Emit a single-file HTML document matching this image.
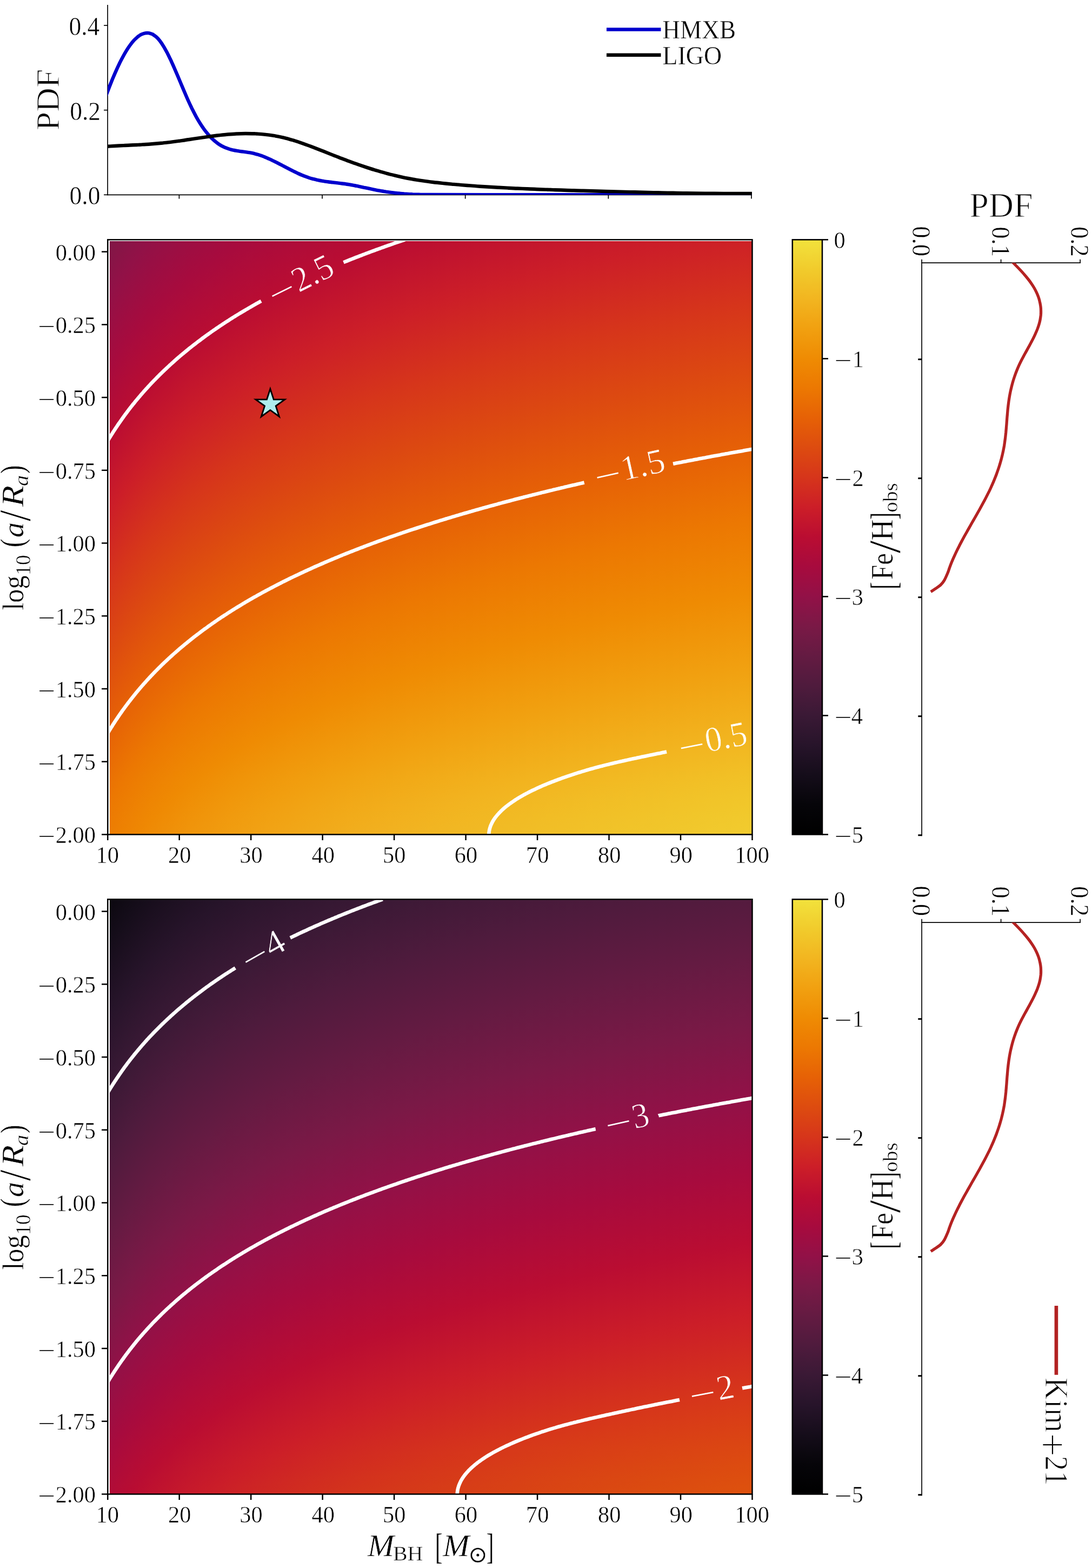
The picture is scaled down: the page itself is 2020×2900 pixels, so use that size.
<!DOCTYPE html>
<html lang="en"><head><meta charset="utf-8"><title>Figure</title>
<style>html,body{margin:0;padding:0;background:#fff;}body{width:2020px;height:2900px;overflow:hidden;}svg{display:block;}</style></head>
<body>
<svg width="2020" height="2900" viewBox="0 0 2020 2900" font-family='"Liberation Serif", "DejaVu Serif", serif'>
<defs>
<linearGradient id="cm" gradientUnits="userSpaceOnUse" x1="0" y1="-2211.76" x2="0" y2="465.60"><stop offset="0.0000" stop-color="#000000"/><stop offset="0.0500" stop-color="#060509"/><stop offset="0.1000" stop-color="#150d1a"/><stop offset="0.1500" stop-color="#27142a"/><stop offset="0.2000" stop-color="#3a1935"/><stop offset="0.2500" stop-color="#4f1b3d"/><stop offset="0.3000" stop-color="#641b42"/><stop offset="0.3500" stop-color="#7a1946"/><stop offset="0.4000" stop-color="#921147"/><stop offset="0.4500" stop-color="#a70b3e"/><stop offset="0.5000" stop-color="#ba0d32"/><stop offset="0.5500" stop-color="#cc1e28"/><stop offset="0.6000" stop-color="#d6351b"/><stop offset="0.6500" stop-color="#dd4b10"/><stop offset="0.7000" stop-color="#e66106"/><stop offset="0.7500" stop-color="#ec7802"/><stop offset="0.8000" stop-color="#ef8b03"/><stop offset="0.8500" stop-color="#f1a010"/><stop offset="0.9000" stop-color="#f2b520"/><stop offset="0.9500" stop-color="#f1cb2c"/><stop offset="1.0000" stop-color="#f2e23c"/></linearGradient>
<linearGradient id="cb" x1="0" y1="0" x2="0" y2="1"><stop offset="-0.0000" stop-color="#f2e23c"/><stop offset="0.0500" stop-color="#f1cb2c"/><stop offset="0.1000" stop-color="#f2b520"/><stop offset="0.1500" stop-color="#f1a010"/><stop offset="0.2000" stop-color="#ef8b03"/><stop offset="0.2500" stop-color="#ec7802"/><stop offset="0.3000" stop-color="#e66106"/><stop offset="0.3500" stop-color="#dd4b10"/><stop offset="0.4000" stop-color="#d6351b"/><stop offset="0.4500" stop-color="#cc1e28"/><stop offset="0.5000" stop-color="#ba0d32"/><stop offset="0.5500" stop-color="#a70b3e"/><stop offset="0.6000" stop-color="#921147"/><stop offset="0.6500" stop-color="#7a1946"/><stop offset="0.7000" stop-color="#641b42"/><stop offset="0.7500" stop-color="#4f1b3d"/><stop offset="0.8000" stop-color="#3a1935"/><stop offset="0.8500" stop-color="#27142a"/><stop offset="0.9000" stop-color="#150d1a"/><stop offset="0.9500" stop-color="#060509"/><stop offset="1.0000" stop-color="#000000"/></linearGradient>
<linearGradient id="ov1" x1="0" y1="0" x2="0" y2="1"><stop offset="0" stop-color="#e63c00" stop-opacity="0.0000"/><stop offset="0.25" stop-color="#e63c00" stop-opacity="0.0031"/><stop offset="0.5" stop-color="#e63c00" stop-opacity="0.0125"/><stop offset="0.75" stop-color="#e63c00" stop-opacity="0.0281"/><stop offset="1.0" stop-color="#e63c00" stop-opacity="0.0500"/></linearGradient>
<linearGradient id="ov2" x1="0" y1="0" x2="0" y2="1"><stop offset="0" stop-color="#96003c" stop-opacity="0.0000"/><stop offset="0.25" stop-color="#96003c" stop-opacity="0.0031"/><stop offset="0.5" stop-color="#96003c" stop-opacity="0.0125"/><stop offset="0.75" stop-color="#96003c" stop-opacity="0.0281"/><stop offset="1.0" stop-color="#96003c" stop-opacity="0.0500"/></linearGradient>
<clipPath id="clip0"><rect x="199.25" y="443.30" width="1192.25" height="1100.10"/></clipPath>
<clipPath id="clip1"><rect x="199.25" y="1663.30" width="1192.25" height="1100.10"/></clipPath>
<clipPath id="clipT"><rect x="199.1" y="9" width="1192" height="351.3"/></clipPath>
<clipPath id="clipR0"><rect x="1705.1" y="486.2" width="293.5" height="1060"/></clipPath>
<clipPath id="clipR1"><rect x="1705.1" y="1706.2" width="293.5" height="1060"/></clipPath>
</defs>
<rect width="2020" height="2900" fill="#fff"/>
<g clip-path="url(#clip0)" shape-rendering="crispEdges">
<g fill="url(#cm)"><rect x="198" y="-1252.9" width="12.5" height="1125.5" transform="matrix(1 -1.61762 0 1 0 2013.52)"/><rect x="210" y="-1233.5" width="12.5" height="1124.0" transform="matrix(1 -1.49294 0 1 0 1987.34)"/><rect x="222" y="-1215.6" width="12.5" height="1122.7" transform="matrix(1 -1.38611 0 1 0 1963.62)"/><rect x="234" y="-1199.0" width="12.5" height="1121.6" transform="matrix(1 -1.29355 0 1 0 1941.97)"/><rect x="246" y="-1183.5" width="12.5" height="1120.7" transform="matrix(1 -1.21258 0 1 0 1922.05)"/><rect x="258" y="-1168.9" width="12.5" height="1119.8" transform="matrix(1 -1.14116 0 1 0 1903.62)"/><rect x="270" y="-1155.2" width="12.5" height="1119.0" transform="matrix(1 -1.07768 0 1 0 1886.48)"/><rect x="282" y="-1142.3" width="12.5" height="1118.4" transform="matrix(1 -1.02090 0 1 0 1870.47)"/><rect x="294" y="-1130.0" width="12.5" height="1117.7" transform="matrix(1 -0.96980 0 1 0 1855.45)"/><rect x="306" y="-1118.4" width="12.5" height="1117.2" transform="matrix(1 -0.92357 0 1 0 1841.30)"/><rect x="318" y="-1107.3" width="12.5" height="1116.7" transform="matrix(1 -0.88155 0 1 0 1827.94)"/><rect x="330" y="-1096.7" width="12.5" height="1116.2" transform="matrix(1 -0.84319 0 1 0 1815.28)"/><rect x="342" y="-1086.6" width="12.5" height="1115.8" transform="matrix(1 -0.80803 0 1 0 1803.25)"/><rect x="354" y="-1076.9" width="12.5" height="1115.4" transform="matrix(1 -0.77568 0 1 0 1791.80)"/><rect x="366" y="-1067.6" width="12.5" height="1115.0" transform="matrix(1 -0.74582 0 1 0 1780.87)"/><rect x="378" y="-1058.7" width="12.5" height="1114.7" transform="matrix(1 -0.71818 0 1 0 1770.43)"/><rect x="390" y="-1050.0" width="12.5" height="1114.4" transform="matrix(1 -0.69251 0 1 0 1760.42)"/><rect x="402" y="-1041.7" width="12.5" height="1114.1" transform="matrix(1 -0.66862 0 1 0 1750.81)"/><rect x="414" y="-1033.7" width="12.5" height="1113.9" transform="matrix(1 -0.64632 0 1 0 1741.58)"/><rect x="426" y="-1025.9" width="12.5" height="1113.6" transform="matrix(1 -0.62546 0 1 0 1732.69)"/><rect x="438" y="-1018.4" width="12.5" height="1113.4" transform="matrix(1 -0.60590 0 1 0 1724.12)"/><rect x="450" y="-1011.2" width="12.5" height="1113.2" transform="matrix(1 -0.58753 0 1 0 1715.86)"/><rect x="462" y="-1004.1" width="12.5" height="1112.9" transform="matrix(1 -0.57024 0 1 0 1707.87)"/><rect x="474" y="-997.3" width="12.5" height="1112.7" transform="matrix(1 -0.55394 0 1 0 1700.14)"/><rect x="486" y="-990.6" width="12.5" height="1112.6" transform="matrix(1 -0.53854 0 1 0 1692.66)"/><rect x="498" y="-984.2" width="12.5" height="1112.4" transform="matrix(1 -0.52398 0 1 0 1685.41)"/><rect x="510" y="-977.9" width="12.5" height="1112.2" transform="matrix(1 -0.51019 0 1 0 1678.37)"/><rect x="522" y="-971.8" width="12.5" height="1112.1" transform="matrix(1 -0.49710 0 1 0 1671.54)"/><rect x="534" y="-965.8" width="12.5" height="1111.9" transform="matrix(1 -0.48467 0 1 0 1664.90)"/><rect x="546" y="-960.0" width="12.5" height="1111.8" transform="matrix(1 -0.47284 0 1 0 1658.45)"/><rect x="558" y="-954.3" width="12.5" height="1111.6" transform="matrix(1 -0.46158 0 1 0 1652.16)"/><rect x="570" y="-948.8" width="12.5" height="1111.5" transform="matrix(1 -0.45084 0 1 0 1646.04)"/><rect x="582" y="-943.4" width="12.5" height="1111.4" transform="matrix(1 -0.44059 0 1 0 1640.08)"/><rect x="594" y="-938.1" width="12.5" height="1111.3" transform="matrix(1 -0.43079 0 1 0 1634.26)"/><rect x="606" y="-932.9" width="12.5" height="1111.2" transform="matrix(1 -0.42143 0 1 0 1628.58)"/><rect x="618" y="-927.8" width="12.5" height="1111.0" transform="matrix(1 -0.41246 0 1 0 1623.04)"/><rect x="630" y="-922.9" width="12.5" height="1110.9" transform="matrix(1 -0.40386 0 1 0 1617.62)"/><rect x="642" y="-918.0" width="12.5" height="1110.8" transform="matrix(1 -0.39562 0 1 0 1612.33)"/><rect x="654" y="-913.3" width="12.5" height="1110.8" transform="matrix(1 -0.38770 0 1 0 1607.15)"/><rect x="666" y="-908.6" width="12.5" height="1110.7" transform="matrix(1 -0.38010 0 1 0 1602.09)"/><rect x="678" y="-904.1" width="12.5" height="1110.6" transform="matrix(1 -0.37278 0 1 0 1597.13)"/><rect x="690" y="-899.6" width="12.5" height="1110.5" transform="matrix(1 -0.36575 0 1 0 1592.28)"/><rect x="702" y="-895.2" width="12.5" height="1110.4" transform="matrix(1 -0.35897 0 1 0 1587.52)"/><rect x="714" y="-890.9" width="12.5" height="1110.3" transform="matrix(1 -0.35245 0 1 0 1582.86)"/><rect x="726" y="-886.7" width="12.5" height="1110.3" transform="matrix(1 -0.34615 0 1 0 1578.29)"/><rect x="738" y="-882.5" width="12.5" height="1110.2" transform="matrix(1 -0.34008 0 1 0 1573.80)"/><rect x="750" y="-878.4" width="12.5" height="1110.1" transform="matrix(1 -0.33421 0 1 0 1569.41)"/><rect x="762" y="-874.4" width="12.5" height="1110.0" transform="matrix(1 -0.32854 0 1 0 1565.09)"/><rect x="774" y="-870.5" width="12.5" height="1110.0" transform="matrix(1 -0.32307 0 1 0 1560.85)"/><rect x="786" y="-866.6" width="12.5" height="1109.9" transform="matrix(1 -0.31777 0 1 0 1556.69)"/><rect x="798" y="-862.8" width="12.5" height="1109.9" transform="matrix(1 -0.31264 0 1 0 1552.59)"/><rect x="810" y="-859.1" width="12.5" height="1109.8" transform="matrix(1 -0.30768 0 1 0 1548.57)"/><rect x="822" y="-855.4" width="12.5" height="1109.7" transform="matrix(1 -0.30287 0 1 0 1544.62)"/><rect x="834" y="-851.7" width="12.5" height="1109.7" transform="matrix(1 -0.29821 0 1 0 1540.73)"/><rect x="846" y="-848.1" width="12.5" height="1109.6" transform="matrix(1 -0.29369 0 1 0 1536.91)"/><rect x="858" y="-844.6" width="12.5" height="1109.6" transform="matrix(1 -0.28931 0 1 0 1533.15)"/><rect x="870" y="-841.2" width="12.5" height="1109.5" transform="matrix(1 -0.28505 0 1 0 1529.45)"/><rect x="882" y="-837.7" width="12.5" height="1109.5" transform="matrix(1 -0.28092 0 1 0 1525.80)"/><rect x="894" y="-834.4" width="12.5" height="1109.4" transform="matrix(1 -0.27690 0 1 0 1522.21)"/><rect x="906" y="-831.0" width="12.5" height="1109.4" transform="matrix(1 -0.27300 0 1 0 1518.68)"/><rect x="918" y="-827.8" width="12.5" height="1109.3" transform="matrix(1 -0.26921 0 1 0 1515.20)"/><rect x="930" y="-824.5" width="12.5" height="1109.3" transform="matrix(1 -0.26552 0 1 0 1511.77)"/><rect x="942" y="-821.3" width="12.5" height="1109.2" transform="matrix(1 -0.26193 0 1 0 1508.39)"/><rect x="954" y="-818.2" width="12.5" height="1109.2" transform="matrix(1 -0.25844 0 1 0 1505.05)"/><rect x="966" y="-815.1" width="12.5" height="1109.2" transform="matrix(1 -0.25504 0 1 0 1501.77)"/><rect x="978" y="-812.0" width="12.5" height="1109.1" transform="matrix(1 -0.25173 0 1 0 1498.53)"/><rect x="990" y="-809.0" width="12.5" height="1109.1" transform="matrix(1 -0.24850 0 1 0 1495.33)"/><rect x="1002" y="-806.0" width="12.5" height="1109.0" transform="matrix(1 -0.24535 0 1 0 1492.18)"/><rect x="1014" y="-803.1" width="12.5" height="1109.0" transform="matrix(1 -0.24228 0 1 0 1489.07)"/><rect x="1026" y="-800.2" width="12.5" height="1109.0" transform="matrix(1 -0.23929 0 1 0 1486.00)"/><rect x="1038" y="-797.3" width="12.5" height="1108.9" transform="matrix(1 -0.23637 0 1 0 1482.97)"/><rect x="1050" y="-794.5" width="12.5" height="1108.9" transform="matrix(1 -0.23353 0 1 0 1479.98)"/><rect x="1062" y="-791.7" width="12.5" height="1108.9" transform="matrix(1 -0.23075 0 1 0 1477.03)"/><rect x="1074" y="-788.9" width="12.5" height="1108.8" transform="matrix(1 -0.22803 0 1 0 1474.11)"/><rect x="1086" y="-786.2" width="12.5" height="1108.8" transform="matrix(1 -0.22538 0 1 0 1471.23)"/><rect x="1098" y="-783.5" width="12.5" height="1108.8" transform="matrix(1 -0.22279 0 1 0 1468.39)"/><rect x="1110" y="-780.8" width="12.5" height="1108.7" transform="matrix(1 -0.22026 0 1 0 1465.58)"/><rect x="1122" y="-778.1" width="12.5" height="1108.7" transform="matrix(1 -0.21778 0 1 0 1462.80)"/><rect x="1134" y="-775.5" width="12.5" height="1108.7" transform="matrix(1 -0.21536 0 1 0 1460.05)"/><rect x="1146" y="-773.0" width="12.5" height="1108.7" transform="matrix(1 -0.21299 0 1 0 1457.34)"/><rect x="1158" y="-770.4" width="12.5" height="1108.6" transform="matrix(1 -0.21068 0 1 0 1454.66)"/><rect x="1170" y="-767.9" width="12.5" height="1108.6" transform="matrix(1 -0.20841 0 1 0 1452.01)"/><rect x="1182" y="-765.4" width="12.5" height="1108.6" transform="matrix(1 -0.20619 0 1 0 1449.39)"/><rect x="1194" y="-762.9" width="12.5" height="1108.5" transform="matrix(1 -0.20402 0 1 0 1446.80)"/><rect x="1206" y="-760.4" width="12.5" height="1108.5" transform="matrix(1 -0.20190 0 1 0 1444.23)"/><rect x="1218" y="-758.0" width="12.5" height="1108.5" transform="matrix(1 -0.19982 0 1 0 1441.70)"/><rect x="1230" y="-755.6" width="12.5" height="1108.5" transform="matrix(1 -0.19778 0 1 0 1439.19)"/><rect x="1242" y="-753.2" width="12.5" height="1108.4" transform="matrix(1 -0.19578 0 1 0 1436.71)"/><rect x="1254" y="-750.9" width="12.5" height="1108.4" transform="matrix(1 -0.19382 0 1 0 1434.25)"/><rect x="1266" y="-748.6" width="12.5" height="1108.4" transform="matrix(1 -0.19190 0 1 0 1431.82)"/><rect x="1278" y="-746.3" width="12.5" height="1108.4" transform="matrix(1 -0.19002 0 1 0 1429.42)"/><rect x="1290" y="-744.0" width="12.5" height="1108.4" transform="matrix(1 -0.18817 0 1 0 1427.04)"/><rect x="1302" y="-741.7" width="12.5" height="1108.3" transform="matrix(1 -0.18636 0 1 0 1424.68)"/><rect x="1314" y="-739.5" width="12.5" height="1108.3" transform="matrix(1 -0.18459 0 1 0 1422.35)"/><rect x="1326" y="-737.3" width="12.5" height="1108.3" transform="matrix(1 -0.18285 0 1 0 1420.04)"/><rect x="1338" y="-735.1" width="12.5" height="1108.3" transform="matrix(1 -0.18114 0 1 0 1417.75)"/><rect x="1350" y="-732.9" width="12.5" height="1108.3" transform="matrix(1 -0.17946 0 1 0 1415.49)"/><rect x="1362" y="-730.8" width="12.5" height="1108.2" transform="matrix(1 -0.17781 0 1 0 1413.24)"/><rect x="1374" y="-728.6" width="12.5" height="1108.2" transform="matrix(1 -0.17620 0 1 0 1411.02)"/><rect x="1386" y="-726.5" width="12.5" height="1108.2" transform="matrix(1 -0.17461 0 1 0 1408.82)"/></g>
<rect x="199.2" y="1414.1" width="1192.2" height="130.3" fill="url(#ov1)"/>
<rect x="199.25" y="443.30" width="3.35" height="1100.10" fill="#fff"/>
<rect x="199.25" y="443.30" width="1192.25" height="2.75" fill="#fff"/>
</g>
<g clip-path="url(#clip1)" shape-rendering="crispEdges">
<g fill="url(#cm)"><rect x="198" y="-2037.7" width="12.5" height="1125.5" transform="matrix(1 -1.61762 0 1 0 4018.26)"/><rect x="210" y="-2018.3" width="12.5" height="1124.0" transform="matrix(1 -1.49294 0 1 0 3992.08)"/><rect x="222" y="-2000.3" width="12.5" height="1122.7" transform="matrix(1 -1.38611 0 1 0 3968.36)"/><rect x="234" y="-1983.7" width="12.5" height="1121.6" transform="matrix(1 -1.29355 0 1 0 3946.70)"/><rect x="246" y="-1968.2" width="12.5" height="1120.7" transform="matrix(1 -1.21258 0 1 0 3926.78)"/><rect x="258" y="-1953.6" width="12.5" height="1119.8" transform="matrix(1 -1.14116 0 1 0 3908.36)"/><rect x="270" y="-1939.9" width="12.5" height="1119.0" transform="matrix(1 -1.07768 0 1 0 3891.22)"/><rect x="282" y="-1927.0" width="12.5" height="1118.4" transform="matrix(1 -1.02090 0 1 0 3875.20)"/><rect x="294" y="-1914.8" width="12.5" height="1117.7" transform="matrix(1 -0.96980 0 1 0 3860.18)"/><rect x="306" y="-1903.1" width="12.5" height="1117.2" transform="matrix(1 -0.92357 0 1 0 3846.04)"/><rect x="318" y="-1892.0" width="12.5" height="1116.7" transform="matrix(1 -0.88155 0 1 0 3832.67)"/><rect x="330" y="-1881.5" width="12.5" height="1116.2" transform="matrix(1 -0.84319 0 1 0 3820.01)"/><rect x="342" y="-1871.3" width="12.5" height="1115.8" transform="matrix(1 -0.80803 0 1 0 3807.99)"/><rect x="354" y="-1861.6" width="12.5" height="1115.4" transform="matrix(1 -0.77568 0 1 0 3796.54)"/><rect x="366" y="-1852.3" width="12.5" height="1115.0" transform="matrix(1 -0.74582 0 1 0 3785.61)"/><rect x="378" y="-1843.4" width="12.5" height="1114.7" transform="matrix(1 -0.71818 0 1 0 3775.16)"/><rect x="390" y="-1834.8" width="12.5" height="1114.4" transform="matrix(1 -0.69251 0 1 0 3765.15)"/><rect x="402" y="-1826.5" width="12.5" height="1114.1" transform="matrix(1 -0.66862 0 1 0 3755.55)"/><rect x="414" y="-1818.4" width="12.5" height="1113.9" transform="matrix(1 -0.64632 0 1 0 3746.31)"/><rect x="426" y="-1810.7" width="12.5" height="1113.6" transform="matrix(1 -0.62546 0 1 0 3737.43)"/><rect x="438" y="-1803.2" width="12.5" height="1113.4" transform="matrix(1 -0.60590 0 1 0 3728.86)"/><rect x="450" y="-1795.9" width="12.5" height="1113.2" transform="matrix(1 -0.58753 0 1 0 3720.59)"/><rect x="462" y="-1788.9" width="12.5" height="1112.9" transform="matrix(1 -0.57024 0 1 0 3712.61)"/><rect x="474" y="-1782.0" width="12.5" height="1112.7" transform="matrix(1 -0.55394 0 1 0 3704.88)"/><rect x="486" y="-1775.4" width="12.5" height="1112.6" transform="matrix(1 -0.53854 0 1 0 3697.40)"/><rect x="498" y="-1768.9" width="12.5" height="1112.4" transform="matrix(1 -0.52398 0 1 0 3690.15)"/><rect x="510" y="-1762.6" width="12.5" height="1112.2" transform="matrix(1 -0.51019 0 1 0 3683.11)"/><rect x="522" y="-1756.5" width="12.5" height="1112.1" transform="matrix(1 -0.49710 0 1 0 3676.28)"/><rect x="534" y="-1750.5" width="12.5" height="1111.9" transform="matrix(1 -0.48467 0 1 0 3669.64)"/><rect x="546" y="-1744.7" width="12.5" height="1111.8" transform="matrix(1 -0.47284 0 1 0 3663.18)"/><rect x="558" y="-1739.0" width="12.5" height="1111.6" transform="matrix(1 -0.46158 0 1 0 3656.90)"/><rect x="570" y="-1733.5" width="12.5" height="1111.5" transform="matrix(1 -0.45084 0 1 0 3650.78)"/><rect x="582" y="-1728.1" width="12.5" height="1111.4" transform="matrix(1 -0.44059 0 1 0 3644.81)"/><rect x="594" y="-1722.8" width="12.5" height="1111.3" transform="matrix(1 -0.43079 0 1 0 3638.99)"/><rect x="606" y="-1717.6" width="12.5" height="1111.2" transform="matrix(1 -0.42143 0 1 0 3633.32)"/><rect x="618" y="-1712.6" width="12.5" height="1111.0" transform="matrix(1 -0.41246 0 1 0 3627.77)"/><rect x="630" y="-1707.6" width="12.5" height="1110.9" transform="matrix(1 -0.40386 0 1 0 3622.36)"/><rect x="642" y="-1702.8" width="12.5" height="1110.8" transform="matrix(1 -0.39562 0 1 0 3617.06)"/><rect x="654" y="-1698.0" width="12.5" height="1110.8" transform="matrix(1 -0.38770 0 1 0 3611.89)"/><rect x="666" y="-1693.4" width="12.5" height="1110.7" transform="matrix(1 -0.38010 0 1 0 3606.82)"/><rect x="678" y="-1688.8" width="12.5" height="1110.6" transform="matrix(1 -0.37278 0 1 0 3601.87)"/><rect x="690" y="-1684.3" width="12.5" height="1110.5" transform="matrix(1 -0.36575 0 1 0 3597.01)"/><rect x="702" y="-1680.0" width="12.5" height="1110.4" transform="matrix(1 -0.35897 0 1 0 3592.26)"/><rect x="714" y="-1675.6" width="12.5" height="1110.3" transform="matrix(1 -0.35245 0 1 0 3587.59)"/><rect x="726" y="-1671.4" width="12.5" height="1110.3" transform="matrix(1 -0.34615 0 1 0 3583.02)"/><rect x="738" y="-1667.3" width="12.5" height="1110.2" transform="matrix(1 -0.34008 0 1 0 3578.54)"/><rect x="750" y="-1663.2" width="12.5" height="1110.1" transform="matrix(1 -0.33421 0 1 0 3574.14)"/><rect x="762" y="-1659.2" width="12.5" height="1110.0" transform="matrix(1 -0.32854 0 1 0 3569.82)"/><rect x="774" y="-1655.2" width="12.5" height="1110.0" transform="matrix(1 -0.32307 0 1 0 3565.58)"/><rect x="786" y="-1651.4" width="12.5" height="1109.9" transform="matrix(1 -0.31777 0 1 0 3561.42)"/><rect x="798" y="-1647.5" width="12.5" height="1109.9" transform="matrix(1 -0.31264 0 1 0 3557.33)"/><rect x="810" y="-1643.8" width="12.5" height="1109.8" transform="matrix(1 -0.30768 0 1 0 3553.31)"/><rect x="822" y="-1640.1" width="12.5" height="1109.7" transform="matrix(1 -0.30287 0 1 0 3549.36)"/><rect x="834" y="-1636.5" width="12.5" height="1109.7" transform="matrix(1 -0.29821 0 1 0 3545.47)"/><rect x="846" y="-1632.9" width="12.5" height="1109.6" transform="matrix(1 -0.29369 0 1 0 3541.65)"/><rect x="858" y="-1629.4" width="12.5" height="1109.6" transform="matrix(1 -0.28931 0 1 0 3537.88)"/><rect x="870" y="-1625.9" width="12.5" height="1109.5" transform="matrix(1 -0.28505 0 1 0 3534.18)"/><rect x="882" y="-1622.5" width="12.5" height="1109.5" transform="matrix(1 -0.28092 0 1 0 3530.54)"/><rect x="894" y="-1619.1" width="12.5" height="1109.4" transform="matrix(1 -0.27690 0 1 0 3526.95)"/><rect x="906" y="-1615.8" width="12.5" height="1109.4" transform="matrix(1 -0.27300 0 1 0 3523.41)"/><rect x="918" y="-1612.5" width="12.5" height="1109.3" transform="matrix(1 -0.26921 0 1 0 3519.93)"/><rect x="930" y="-1609.3" width="12.5" height="1109.3" transform="matrix(1 -0.26552 0 1 0 3516.50)"/><rect x="942" y="-1606.1" width="12.5" height="1109.2" transform="matrix(1 -0.26193 0 1 0 3513.12)"/><rect x="954" y="-1602.9" width="12.5" height="1109.2" transform="matrix(1 -0.25844 0 1 0 3509.79)"/><rect x="966" y="-1599.8" width="12.5" height="1109.2" transform="matrix(1 -0.25504 0 1 0 3506.50)"/><rect x="978" y="-1596.8" width="12.5" height="1109.1" transform="matrix(1 -0.25173 0 1 0 3503.26)"/><rect x="990" y="-1593.8" width="12.5" height="1109.1" transform="matrix(1 -0.24850 0 1 0 3500.07)"/><rect x="1002" y="-1590.8" width="12.5" height="1109.0" transform="matrix(1 -0.24535 0 1 0 3496.92)"/><rect x="1014" y="-1587.8" width="12.5" height="1109.0" transform="matrix(1 -0.24228 0 1 0 3493.81)"/><rect x="1026" y="-1584.9" width="12.5" height="1109.0" transform="matrix(1 -0.23929 0 1 0 3490.74)"/><rect x="1038" y="-1582.0" width="12.5" height="1108.9" transform="matrix(1 -0.23637 0 1 0 3487.71)"/><rect x="1050" y="-1579.2" width="12.5" height="1108.9" transform="matrix(1 -0.23353 0 1 0 3484.72)"/><rect x="1062" y="-1576.4" width="12.5" height="1108.9" transform="matrix(1 -0.23075 0 1 0 3481.76)"/><rect x="1074" y="-1573.6" width="12.5" height="1108.8" transform="matrix(1 -0.22803 0 1 0 3478.85)"/><rect x="1086" y="-1570.9" width="12.5" height="1108.8" transform="matrix(1 -0.22538 0 1 0 3475.97)"/><rect x="1098" y="-1568.2" width="12.5" height="1108.8" transform="matrix(1 -0.22279 0 1 0 3473.12)"/><rect x="1110" y="-1565.5" width="12.5" height="1108.7" transform="matrix(1 -0.22026 0 1 0 3470.31)"/><rect x="1122" y="-1562.9" width="12.5" height="1108.7" transform="matrix(1 -0.21778 0 1 0 3467.53)"/><rect x="1134" y="-1560.3" width="12.5" height="1108.7" transform="matrix(1 -0.21536 0 1 0 3464.79)"/><rect x="1146" y="-1557.7" width="12.5" height="1108.7" transform="matrix(1 -0.21299 0 1 0 3462.08)"/><rect x="1158" y="-1555.1" width="12.5" height="1108.6" transform="matrix(1 -0.21068 0 1 0 3459.40)"/><rect x="1170" y="-1552.6" width="12.5" height="1108.6" transform="matrix(1 -0.20841 0 1 0 3456.74)"/><rect x="1182" y="-1550.1" width="12.5" height="1108.6" transform="matrix(1 -0.20619 0 1 0 3454.12)"/><rect x="1194" y="-1547.6" width="12.5" height="1108.5" transform="matrix(1 -0.20402 0 1 0 3451.53)"/><rect x="1206" y="-1545.2" width="12.5" height="1108.5" transform="matrix(1 -0.20190 0 1 0 3448.97)"/><rect x="1218" y="-1542.8" width="12.5" height="1108.5" transform="matrix(1 -0.19982 0 1 0 3446.43)"/><rect x="1230" y="-1540.4" width="12.5" height="1108.5" transform="matrix(1 -0.19778 0 1 0 3443.92)"/><rect x="1242" y="-1538.0" width="12.5" height="1108.4" transform="matrix(1 -0.19578 0 1 0 3441.44)"/><rect x="1254" y="-1535.6" width="12.5" height="1108.4" transform="matrix(1 -0.19382 0 1 0 3438.99)"/><rect x="1266" y="-1533.3" width="12.5" height="1108.4" transform="matrix(1 -0.19190 0 1 0 3436.56)"/><rect x="1278" y="-1531.0" width="12.5" height="1108.4" transform="matrix(1 -0.19002 0 1 0 3434.15)"/><rect x="1290" y="-1528.7" width="12.5" height="1108.4" transform="matrix(1 -0.18817 0 1 0 3431.77)"/><rect x="1302" y="-1526.5" width="12.5" height="1108.3" transform="matrix(1 -0.18636 0 1 0 3429.42)"/><rect x="1314" y="-1524.2" width="12.5" height="1108.3" transform="matrix(1 -0.18459 0 1 0 3427.08)"/><rect x="1326" y="-1522.0" width="12.5" height="1108.3" transform="matrix(1 -0.18285 0 1 0 3424.77)"/><rect x="1338" y="-1519.8" width="12.5" height="1108.3" transform="matrix(1 -0.18114 0 1 0 3422.49)"/><rect x="1350" y="-1517.6" width="12.5" height="1108.3" transform="matrix(1 -0.17946 0 1 0 3420.22)"/><rect x="1362" y="-1515.5" width="12.5" height="1108.2" transform="matrix(1 -0.17781 0 1 0 3417.98)"/><rect x="1374" y="-1513.4" width="12.5" height="1108.2" transform="matrix(1 -0.17620 0 1 0 3415.76)"/><rect x="1386" y="-1511.2" width="12.5" height="1108.2" transform="matrix(1 -0.17461 0 1 0 3413.56)"/></g>
<rect x="199.2" y="2634.1" width="1192.2" height="130.3" fill="url(#ov2)"/>
<rect x="199.25" y="1663.30" width="3.65" height="1100.10" fill="#fff"/>
</g>
<g>
<path d="M199.2 815.4L199.3 815.3L201.7 811.3L202.2 810.4L204.2 807.3L205.2 805.6L206.7 803.3L208.2 800.9L209.2 799.3L211.2 796.2L211.8 795.3L214.2 791.7L214.4 791.3L217.1 787.3L217.2 787.2L219.8 783.3L220.2 782.8L222.6 779.3L223.2 778.5L225.4 775.3L226.1 774.3L228.3 771.3L229.1 770.1L231.2 767.3L232.1 766.1L234.2 763.3L235.1 762.0L237.2 759.3L238.1 758.1L240.2 755.3L241.1 754.2L243.4 751.3L244.1 750.4L246.5 747.3L247.1 746.7L249.8 743.3L250.0 743.0L253.0 739.4L253.1 739.3L256.0 735.8L256.4 735.3L259.0 732.3L259.8 731.3L262.0 728.8L263.3 727.3L265.0 725.4L266.8 723.3L268.0 722.0L270.4 719.3L271.0 718.7L274.0 715.4L274.0 715.3L276.9 712.2L277.8 711.3L279.9 709.0L281.5 707.3L282.9 705.9L285.4 703.3L285.9 702.8L288.9 699.7L289.3 699.3L291.9 696.7L293.3 695.3L294.9 693.7L297.3 691.3L297.9 690.8L300.8 687.9L301.4 687.3L303.8 685.0L305.6 683.3L306.8 682.2L309.8 679.4L309.9 679.3L312.8 676.6L314.2 675.3L315.8 673.9L318.6 671.3L318.8 671.2L321.8 668.5L323.1 667.3L324.8 665.8L327.6 663.3L327.7 663.2L330.7 660.6L332.3 659.3L333.7 658.1L336.7 655.6L337.0 655.3L339.7 653.1L341.8 651.3L342.7 650.6L345.7 648.1L346.7 647.3L348.7 645.7L351.6 643.3L351.7 643.3L354.6 641.0L356.7 639.3L357.6 638.6L360.6 636.3L361.9 635.3L363.6 634.0L366.6 631.7L367.1 631.3L369.6 629.5L372.4 627.3L372.6 627.2L375.5 625.0L377.8 623.3L378.5 622.8L381.5 620.6L383.4 619.3L384.5 618.5L387.5 616.4L389.0 615.3L390.5 614.2L393.5 612.1L394.7 611.3L396.5 610.1L399.5 608.0L400.5 607.3L402.4 606.0L405.4 604.0L406.4 603.3L408.4 601.9L411.4 600.0L412.4 599.3L414.4 598.0L417.4 596.0L418.5 595.3L420.4 594.1L423.4 592.2L424.7 591.3L426.3 590.3L429.3 588.4L431.0 587.3L432.3 586.5L435.3 584.6L437.5 583.3L438.3 582.8L441.3 581.0L444.0 579.3L444.3 579.2L447.3 577.4L450.2 575.6L450.7 575.3L453.2 573.8L456.2 572.0L457.5 571.3L459.2 570.3L462.2 568.5L464.4 567.3L465.2 566.8L468.2 565.1L471.2 563.4L471.4 563.3L474.2 561.7L477.1 560.1L478.5 559.3L480.1 558.4L483.1 556.8M635.5 485.2L638.5 484.0L640.2 483.3L641.5 482.8L644.5 481.6L647.5 480.4L650.3 479.3L650.5 479.2L653.4 478.1L656.4 476.9L659.4 475.7L660.5 475.3L662.4 474.6L665.4 473.4L668.4 472.3L670.9 471.3L671.4 471.1L674.4 470.0L677.3 468.9L680.3 467.8L681.5 467.3L683.3 466.6L686.3 465.5L689.3 464.4L692.3 463.3L692.3 463.3L695.3 462.2L698.3 461.1L701.2 460.0L703.3 459.3L704.2 459.0L707.2 457.9L710.2 456.8L713.2 455.7L714.4 455.3L716.2 454.7L719.2 453.6L722.2 452.6L725.2 451.5L725.8 451.3L728.1 450.5L731.1 449.4L734.1 448.4L737.1 447.4L737.3 447.3L740.1 446.4L743.1 445.3L746.1 444.3L749.1 443.3L749.1 443.3" fill="none" stroke="#fff" stroke-width="6.6" clip-path="url(#clip0)"/>
<path d="M199.2 1356.1L199.7 1355.4L202.1 1351.4L202.2 1351.1L204.6 1347.4L205.2 1346.3L207.1 1343.4L208.2 1341.5L209.6 1339.4L211.2 1336.9L212.2 1335.4L214.2 1332.3L214.8 1331.4L217.2 1327.9L217.5 1327.4L220.2 1323.5L220.2 1323.4L223.0 1319.4L223.2 1319.2L225.8 1315.4L226.1 1314.9L228.7 1311.4L229.1 1310.8L231.6 1307.4L232.1 1306.7L234.6 1303.4L235.1 1302.7L237.6 1299.4L238.1 1298.8L240.7 1295.4L241.1 1294.9L243.8 1291.4L244.1 1291.1L247.0 1287.4L247.1 1287.3L250.0 1283.6L250.3 1283.4L253.0 1280.0L253.6 1279.4L256.0 1276.4L256.9 1275.4L259.0 1272.9L260.3 1271.4L262.0 1269.4L263.8 1267.4L265.0 1266.0L267.3 1263.4L268.0 1262.7L270.9 1259.4L271.0 1259.3L274.0 1256.1L274.6 1255.4L276.9 1252.8L278.3 1251.4L279.9 1249.6L282.1 1247.4L282.9 1246.5L285.9 1243.4L285.9 1243.4L288.9 1240.3L289.9 1239.4L291.9 1237.3L293.8 1235.4L294.9 1234.3L297.9 1231.4L297.9 1231.4L300.8 1228.5L302.0 1227.4L303.8 1225.6L306.2 1223.4L306.8 1222.8L309.8 1220.0L310.5 1219.4L312.8 1217.2L314.8 1215.4L315.8 1214.5L318.8 1211.8L319.2 1211.4L321.8 1209.1L323.7 1207.4L324.8 1206.5L327.7 1203.9L328.3 1203.4L330.7 1201.3L333.0 1199.4L333.7 1198.7L336.7 1196.2L337.7 1195.4L339.7 1193.7L342.5 1191.4L342.7 1191.2L345.7 1188.8L347.4 1187.4L348.7 1186.4L351.6 1184.0L352.4 1183.4L354.6 1181.6L357.5 1179.4L357.6 1179.2L360.6 1176.9L362.6 1175.4L363.6 1174.6L366.6 1172.3L367.9 1171.4L369.6 1170.1L372.6 1167.8L373.2 1167.4L375.5 1165.6L378.5 1163.4L378.6 1163.4L381.5 1161.3L384.2 1159.4L384.5 1159.1L387.5 1157.0L389.8 1155.4L390.5 1154.9L393.5 1152.8L395.5 1151.4L396.5 1150.7L399.5 1148.6L401.3 1147.4L402.4 1146.6L405.4 1144.6L407.2 1143.4L408.4 1142.6L411.4 1140.6L413.3 1139.4L414.4 1138.6L417.4 1136.7L419.4 1135.4L420.4 1134.7L423.4 1132.8L425.6 1131.4L426.3 1130.9L429.3 1129.0L432.0 1127.4L432.3 1127.1L435.3 1125.3L438.3 1123.4L438.4 1123.4L441.3 1121.6L444.3 1119.8L445.0 1119.4L447.3 1118.0L450.2 1116.2L451.7 1115.4L453.2 1114.4L456.2 1112.7L458.4 1111.4L459.2 1110.9L462.2 1109.2L465.2 1107.5L465.4 1107.4L468.2 1105.7L471.2 1104.0L472.4 1103.4L474.2 1102.4L477.1 1100.7L479.5 1099.4L480.1 1099.0L483.1 1097.4L486.1 1095.7L486.8 1095.4L489.1 1094.1L492.1 1092.5L494.2 1091.4L495.1 1090.9L498.1 1089.3L501.0 1087.7L501.7 1087.4L504.0 1086.2L507.0 1084.6L509.4 1083.4L510.0 1083.0L513.0 1081.5L516.0 1080.0L517.2 1079.4L519.0 1078.5L522.0 1076.9L525.0 1075.4L525.1 1075.4L527.9 1074.0L530.9 1072.5L533.2 1071.4L533.9 1071.0L536.9 1069.5L539.9 1068.1L541.4 1067.4L542.9 1066.6L545.9 1065.2L548.9 1063.8L549.8 1063.4L551.8 1062.4L554.8 1061.0L557.8 1059.6L558.2 1059.4L560.8 1058.2L563.8 1056.8L566.8 1055.4L566.9 1055.4L569.8 1054.0L572.8 1052.7L575.7 1051.4L575.8 1051.3L578.7 1050.0L581.7 1048.6L584.6 1047.4L584.7 1047.3L587.7 1046.0L590.7 1044.7L593.7 1043.4L593.7 1043.4L596.7 1042.1L599.7 1040.8L602.6 1039.5L603.0 1039.4L605.6 1038.2L608.6 1037.0L611.6 1035.7L612.4 1035.4L614.6 1034.4L617.6 1033.2L620.6 1031.9L622.0 1031.4L623.6 1030.7L626.5 1029.5L629.5 1028.2L631.7 1027.4L632.5 1027.0L635.5 1025.8L638.5 1024.6L641.5 1023.4L641.6 1023.4L644.5 1022.2L647.5 1021.0L650.5 1019.9L651.7 1019.4L653.4 1018.7L656.4 1017.5L659.4 1016.4L662.0 1015.4L662.4 1015.2L665.4 1014.0L668.4 1012.9L671.4 1011.8L672.4 1011.4L674.4 1010.6L677.3 1009.5L680.3 1008.4L683.1 1007.4L683.3 1007.3L686.3 1006.1L689.3 1005.0L692.3 1003.9L693.9 1003.4L695.3 1002.8L698.3 1001.7L701.2 1000.7L704.2 999.6L704.9 999.4L707.2 998.5L710.2 997.4L713.2 996.4L716.1 995.4L716.2 995.3L719.2 994.2L722.2 993.2L725.2 992.1L727.4 991.3L728.1 991.1L731.1 990.1L734.1 989.0L737.1 988.0L739.0 987.3L740.1 987.0L743.1 986.0L746.1 984.9L749.1 983.9L750.8 983.3L752.0 982.9L755.0 981.9L758.0 980.9L761.0 979.9L762.8 979.3L764.0 978.9L767.0 978.0L770.0 977.0L773.0 976.0L775.0 975.3L776.0 975.0L778.9 974.1L781.9 973.1L784.9 972.1L787.4 971.3L787.9 971.2L790.9 970.2L793.9 969.3L796.9 968.3L799.9 967.4L800.0 967.3L802.8 966.4L805.8 965.5L808.8 964.6L811.8 963.7L812.8 963.3L814.8 962.7L817.8 961.8L820.8 960.9L823.8 960.0L825.9 959.3L826.8 959.1L829.7 958.2L832.7 957.3L835.7 956.4L838.7 955.5L839.2 955.3L841.7 954.6L844.7 953.7L847.7 952.8L850.7 951.9L852.7 951.3L853.6 951.1L856.6 950.2L859.6 949.3L862.6 948.5L865.6 947.6L866.4 947.3L868.6 946.7L871.6 945.9L874.6 945.0L877.5 944.2L880.4 943.3L880.5 943.3L883.5 942.5L886.5 941.6L889.5 940.8L892.5 939.9L894.6 939.3L895.5 939.1L898.5 938.3L901.5 937.5L904.4 936.6L907.4 935.8L909.1 935.3L910.4 935.0L913.4 934.2L916.4 933.4L919.4 932.6L922.4 931.7L923.9 931.3L925.4 930.9L928.3 930.1L931.3 929.3L934.3 928.5L937.3 927.8L938.8 927.3L940.3 927.0L943.3 926.2L946.3 925.4L949.3 924.6L952.2 923.8L954.1 923.3L955.2 923.0L958.2 922.3L961.2 921.5L964.2 920.7L967.2 920.0L969.6 919.3L970.2 919.2L973.2 918.4L976.2 917.7L979.1 916.9L982.1 916.2L985.1 915.4L985.4 915.3L988.1 914.7L991.1 913.9L994.1 913.2L997.1 912.4L1000.1 911.7L1001.4 911.3L1003.0 910.9L1006.0 910.2L1009.0 909.5L1012.0 908.7L1015.0 908.0L1017.8 907.3L1018.0 907.3L1021.0 906.6L1024.0 905.8L1027.0 905.1L1029.9 904.4L1032.9 903.7L1034.4 903.3L1035.9 903.0L1038.9 902.3L1041.9 901.6L1044.9 900.8L1047.9 900.1L1050.9 899.4L1051.3 899.3L1053.8 898.7L1056.8 898.0L1059.8 897.3L1062.8 896.7L1065.8 896.0L1068.5 895.3L1068.8 895.3L1071.8 894.6L1074.8 893.9L1077.8 893.2L1080.7 892.5M1245.1 857.8L1248.1 857.2L1251.1 856.6L1254.0 856.1L1257.0 855.5L1257.7 855.3L1260.0 854.9L1263.0 854.3L1266.0 853.7L1269.0 853.2L1272.0 852.6L1275.0 852.0L1278.0 851.4L1278.5 851.3L1280.9 850.9L1283.9 850.3L1286.9 849.7L1289.9 849.2L1292.9 848.6L1295.9 848.0L1298.9 847.5L1299.7 847.3L1301.9 846.9L1304.8 846.4L1307.8 845.8L1310.8 845.3L1313.8 844.7L1316.8 844.1L1319.8 843.6L1321.2 843.3L1322.8 843.0L1325.8 842.5L1328.8 841.9L1331.7 841.4L1334.7 840.8L1337.7 840.3L1340.7 839.8L1343.0 839.3L1343.7 839.2L1346.7 838.7L1349.7 838.1L1352.7 837.6L1355.6 837.1L1358.6 836.5L1361.6 836.0L1364.6 835.5L1365.3 835.3L1367.6 834.9L1370.6 834.4L1373.6 833.9L1376.6 833.3L1379.5 832.8L1382.5 832.3L1385.5 831.8L1387.9 831.3L1388.5 831.2L1391.5 830.7" fill="none" stroke="#fff" stroke-width="6.6" clip-path="url(#clip0)"/>
<path d="M904.3 1543.4L904.4 1541.7L904.6 1539.4L905.2 1535.4L906.2 1531.4L907.4 1527.7L907.5 1527.4L909.3 1523.4L910.4 1521.2L911.3 1519.4L913.4 1516.0L913.8 1515.4L916.4 1511.7L916.6 1511.4L919.4 1508.0L919.9 1507.4L922.4 1504.6L923.5 1503.4L925.4 1501.5L927.4 1499.4L928.3 1498.6L931.3 1495.8L931.8 1495.4L934.3 1493.3L936.6 1491.4L937.3 1490.9L940.3 1488.6L941.8 1487.4L943.3 1486.3L946.3 1484.2L947.4 1483.4L949.3 1482.2L952.2 1480.2L953.4 1479.4L955.2 1478.3L958.2 1476.4L959.9 1475.4L961.2 1474.6L964.2 1472.9L966.8 1471.4L967.2 1471.2L970.2 1469.5L973.2 1467.9L974.1 1467.4L976.2 1466.3L979.1 1464.8L981.9 1463.4L982.1 1463.3L985.1 1461.8L988.1 1460.4L990.2 1459.4L991.1 1459.0L994.1 1457.6L997.1 1456.2L998.9 1455.4L1000.1 1454.9L1003.0 1453.6L1006.0 1452.3L1008.2 1451.4L1009.0 1451.1L1012.0 1449.8L1015.0 1448.6L1018.0 1447.4L1018.0 1447.4L1021.0 1446.2L1024.0 1445.1L1027.0 1443.9L1028.3 1443.4L1029.9 1442.8L1032.9 1441.7L1035.9 1440.6L1038.9 1439.5L1039.1 1439.4L1041.9 1438.4L1044.9 1437.4L1047.9 1436.3L1050.6 1435.4L1050.9 1435.3L1053.8 1434.3L1056.8 1433.3L1059.8 1432.3L1062.6 1431.4L1062.8 1431.3L1065.8 1430.4L1068.8 1429.4L1071.8 1428.5L1074.8 1427.6L1075.4 1427.4L1077.8 1426.7L1080.7 1425.8L1083.7 1424.9L1086.7 1424.0L1088.8 1423.4L1089.7 1423.1L1092.7 1422.3L1095.7 1421.5L1098.7 1420.6L1101.7 1419.8L1103.2 1419.4L1104.6 1419.0L1107.6 1418.2L1110.6 1417.4L1113.6 1416.7L1116.6 1415.9L1118.5 1415.4L1119.6 1415.1L1122.6 1414.4L1125.6 1413.7L1128.5 1412.9L1131.5 1412.2L1134.5 1411.5L1135.0 1411.4L1137.5 1410.8L1140.5 1410.1L1143.5 1409.4L1146.5 1408.7L1149.5 1408.1L1152.4 1407.4L1152.5 1407.4L1155.4 1406.7L1158.4 1406.1L1161.4 1405.4L1164.4 1404.7L1167.4 1404.1L1170.4 1403.4L1170.6 1403.4L1173.4 1402.8L1176.4 1402.2L1179.3 1401.5L1182.3 1400.9L1185.3 1400.3L1188.3 1399.6L1189.4 1399.4L1191.3 1399.0L1194.3 1398.4L1197.3 1397.8L1200.3 1397.1L1203.2 1396.5L1206.2 1395.9L1208.7 1395.4L1209.2 1395.3L1212.2 1394.7L1215.2 1394.1L1218.2 1393.5L1221.2 1392.9L1224.2 1392.2L1227.2 1391.6L1228.4 1391.4L1230.1 1391.0L1233.1 1390.4" fill="none" stroke="#fff" stroke-width="6.6" clip-path="url(#clip0)"/>
<path d="M199.2 2021.0L200.2 2019.3L202.2 2016.0L202.7 2015.3L205.1 2011.3L205.2 2011.2L207.7 2007.3L208.2 2006.5L210.2 2003.3L211.2 2001.8L212.8 1999.3L214.2 1997.3L215.5 1995.3L217.2 1992.8L218.2 1991.3L220.2 1988.4L220.9 1987.3L223.2 1984.1L223.7 1983.3L226.1 1979.9L226.5 1979.3L229.1 1975.7L229.4 1975.3L232.1 1971.6L232.4 1971.3L235.1 1967.6L235.3 1967.3L238.1 1963.7L238.4 1963.3L241.1 1959.8L241.5 1959.3L244.1 1956.0L244.6 1955.3L247.1 1952.3L247.8 1951.3L250.0 1948.6L251.1 1947.3L253.0 1945.0L254.4 1943.3L256.0 1941.4L257.8 1939.3L259.0 1937.9L261.2 1935.3L262.0 1934.4L264.7 1931.3L265.0 1931.0L268.0 1927.6L268.2 1927.3L271.0 1924.3L271.8 1923.3L274.0 1921.0L275.5 1919.3L276.9 1917.8L279.3 1915.3L279.9 1914.6L282.9 1911.5L283.0 1911.3L285.9 1908.4L286.9 1907.3L288.9 1905.3L290.9 1903.3L291.9 1902.3L294.9 1899.3L294.9 1899.3L297.9 1896.4L298.9 1895.3L300.8 1893.5L303.1 1891.3L303.8 1890.6L306.8 1887.8L307.3 1887.3L309.8 1885.0L311.6 1883.3L312.8 1882.2L315.8 1879.5L315.9 1879.3L318.8 1876.8L320.4 1875.3L321.8 1874.1L324.8 1871.4L324.9 1871.3L327.7 1868.8L329.5 1867.3L330.7 1866.2L333.7 1863.7L334.2 1863.3L336.7 1861.2L338.9 1859.3L339.7 1858.7L342.7 1856.2L343.7 1855.3L345.7 1853.7L348.7 1851.3L348.7 1851.3L351.6 1848.9L353.7 1847.3L354.6 1846.6L357.6 1844.2L358.8 1843.3L360.6 1841.9L363.6 1839.6L363.9 1839.3L366.6 1837.3L369.2 1835.3L369.6 1835.0L372.6 1832.8L374.6 1831.3L375.5 1830.6L378.5 1828.4L380.0 1827.3L381.5 1826.2L384.5 1824.1L385.6 1823.3L387.5 1821.9L390.5 1819.8L391.2 1819.3L393.5 1817.7L396.5 1815.7L397.0 1815.3L399.5 1813.6L402.4 1811.6L402.8 1811.3L405.4 1809.5L408.4 1807.5L408.8 1807.3L411.4 1805.6L414.4 1803.6L414.8 1803.3L417.4 1801.6L420.4 1799.7L421.0 1799.3L423.4 1797.8L426.3 1795.9L427.2 1795.3L429.3 1794.0L432.3 1792.1L433.6 1791.3L435.3 1790.2M536.9 1734.5L539.9 1733.1L542.9 1731.6L543.5 1731.3L545.9 1730.2L548.9 1728.8L551.8 1727.3L551.9 1727.3L554.8 1725.9L557.8 1724.5L560.4 1723.3L560.8 1723.1L563.8 1721.8L566.8 1720.4L569.1 1719.3L569.8 1719.0L572.8 1717.6L575.8 1716.3L578.0 1715.3L578.7 1715.0L581.7 1713.6L584.7 1712.3L586.9 1711.3L587.7 1711.0L590.7 1709.7L593.7 1708.3L596.1 1707.3L596.7 1707.0L599.7 1705.8L602.6 1704.5L605.4 1703.3L605.6 1703.2L608.6 1701.9L611.6 1700.7L614.6 1699.4L614.8 1699.3L617.6 1698.2L620.6 1696.9L623.6 1695.7L624.5 1695.3L626.5 1694.4L629.5 1693.2L632.5 1692.0L634.3 1691.3L635.5 1690.8L638.5 1689.6L641.5 1688.4L644.2 1687.3L644.5 1687.2L647.5 1686.0L650.5 1684.8L653.4 1683.7L654.3 1683.3L656.4 1682.5L659.4 1681.3L662.4 1680.2L664.7 1679.3L665.4 1679.0L668.4 1677.9L671.4 1676.7L674.4 1675.6L675.1 1675.3L677.3 1674.5L680.3 1673.3L683.3 1672.2L685.8 1671.3L686.3 1671.1L689.3 1670.0L692.3 1668.9L695.3 1667.8L696.7 1667.3L698.3 1666.7L701.2 1665.6L704.2 1664.6L707.2 1663.5L707.7 1663.3" fill="none" stroke="#fff" stroke-width="6.6" clip-path="url(#clip1)"/>
<path d="M199.2 2556.3L199.8 2555.4L202.2 2551.4L202.2 2551.4L204.7 2547.4L205.2 2546.5L207.2 2543.4L208.2 2541.8L209.7 2539.4L211.2 2537.1L212.3 2535.4L214.2 2532.6L215.0 2531.4L217.2 2528.1L217.7 2527.4L220.2 2523.7L220.4 2523.4L223.2 2519.4L223.2 2519.4L226.0 2515.4L226.1 2515.2L228.9 2511.4L229.1 2511.0L231.8 2507.4L232.1 2506.9L234.8 2503.4L235.1 2502.9L237.8 2499.4L238.1 2499.0L240.9 2495.4L241.1 2495.1L244.0 2491.4L244.1 2491.3L247.1 2487.6L247.2 2487.4L250.0 2483.9L250.5 2483.4L253.0 2480.2L253.8 2479.4L256.0 2476.7L257.1 2475.4L259.0 2473.1L260.5 2471.4L262.0 2469.7L264.0 2467.4L265.0 2466.3L267.5 2463.4L268.0 2462.9L271.0 2459.6L271.1 2459.4L274.0 2456.3L274.8 2455.4L276.9 2453.1L278.5 2451.4L279.9 2449.9L282.3 2447.4L282.9 2446.7L285.9 2443.6L286.2 2443.4L288.9 2440.6L290.1 2439.4L291.9 2437.6L294.1 2435.4L294.9 2434.6L297.9 2431.6L298.1 2431.4L300.8 2428.7L302.3 2427.4L303.8 2425.9L306.5 2423.4L306.8 2423.0L309.8 2420.2L310.7 2419.4L312.8 2417.5L315.1 2415.4L315.8 2414.7L318.8 2412.0L319.5 2411.4L321.8 2409.4L324.0 2407.4L324.8 2406.7L327.7 2404.1L328.6 2403.4L330.7 2401.5L333.2 2399.4L333.7 2399.0L336.7 2396.4L338.0 2395.4L339.7 2393.9L342.7 2391.5L342.8 2391.4L345.7 2389.0L347.7 2387.4L348.7 2386.6L351.6 2384.2L352.7 2383.4L354.6 2381.8L357.6 2379.5L357.8 2379.4L360.6 2377.2L362.9 2375.4L363.6 2374.9L366.6 2372.6L368.2 2371.4L369.6 2370.3L372.6 2368.1L373.5 2367.4L375.5 2365.9L378.5 2363.7L379.0 2363.4L381.5 2361.5L384.5 2359.4L384.5 2359.4L387.5 2357.2L390.1 2355.4L390.5 2355.1L393.5 2353.0L395.9 2351.4L396.5 2350.9L399.5 2348.9L401.7 2347.4L402.4 2346.8L405.4 2344.8L407.6 2343.4L408.4 2342.8L411.4 2340.8L413.6 2339.4L414.4 2338.9L417.4 2336.9L419.8 2335.4L420.4 2335.0L423.4 2333.0L426.0 2331.4L426.3 2331.1L429.3 2329.2L432.3 2327.4L432.3 2327.4L435.3 2325.5L438.3 2323.7L438.8 2323.4L441.3 2321.8L444.3 2320.0L445.4 2319.4L447.3 2318.2L450.2 2316.4L452.1 2315.4L453.2 2314.7L456.2 2312.9L458.9 2311.4L459.2 2311.1L462.2 2309.4L465.2 2307.7L465.8 2307.4L468.2 2306.0L471.2 2304.3L472.8 2303.4L474.2 2302.6L477.1 2300.9L480.0 2299.4L480.1 2299.3L483.1 2297.6L486.1 2296.0L487.3 2295.4L489.1 2294.4L492.1 2292.7L494.7 2291.4L495.1 2291.1L498.1 2289.5L501.0 2288.0L502.2 2287.4L504.0 2286.4L507.0 2284.8L509.9 2283.4L510.0 2283.3L513.0 2281.7L516.0 2280.2L517.7 2279.4L519.0 2278.7L522.0 2277.2L525.0 2275.7L525.6 2275.4L527.9 2274.2L530.9 2272.7L533.7 2271.4L533.9 2271.2L536.9 2269.8L539.9 2268.3L541.9 2267.4L542.9 2266.9L545.9 2265.4L548.9 2264.0L550.3 2263.4L551.8 2262.6L554.8 2261.2L557.8 2259.8L558.8 2259.4L560.8 2258.4L563.8 2257.0L566.8 2255.6L567.4 2255.4L569.8 2254.3L572.8 2252.9L575.8 2251.6L576.2 2251.4L578.7 2250.2L581.7 2248.9L584.7 2247.6L585.2 2247.4L587.7 2246.2L590.7 2244.9L593.7 2243.6L594.3 2243.4L596.7 2242.3L599.7 2241.0L602.6 2239.7L603.5 2239.4L605.6 2238.5L608.6 2237.2L611.6 2235.9L613.0 2235.4L614.6 2234.7L617.6 2233.4L620.6 2232.2L622.6 2231.4L623.6 2230.9L626.5 2229.7L629.5 2228.5L632.3 2227.4L632.5 2227.3L635.5 2226.1L638.5 2224.9L641.5 2223.7L642.3 2223.4L644.5 2222.5L647.5 2221.3L650.5 2220.1L652.4 2219.4L653.4 2218.9L656.4 2217.8L659.4 2216.6L662.4 2215.4L662.6 2215.4L665.4 2214.3L668.4 2213.1L671.4 2212.0L673.1 2211.3L674.4 2210.9L677.3 2209.7L680.3 2208.6L683.3 2207.5L683.7 2207.3L686.3 2206.4L689.3 2205.3L692.3 2204.2L694.5 2203.3L695.3 2203.1L698.3 2202.0L701.2 2200.9L704.2 2199.8L705.5 2199.3L707.2 2198.7L710.2 2197.7L713.2 2196.6L716.2 2195.5L716.7 2195.3L719.2 2194.5L722.2 2193.4L725.2 2192.4L728.1 2191.3L728.1 2191.3L731.1 2190.3L734.1 2189.3L737.1 2188.2L739.7 2187.3L740.1 2187.2L743.1 2186.2L746.1 2185.2L749.1 2184.2L751.5 2183.3L752.0 2183.2L755.0 2182.2L758.0 2181.2L761.0 2180.2L763.5 2179.3L764.0 2179.2L767.0 2178.2L770.0 2177.2L773.0 2176.2L775.7 2175.3L776.0 2175.3L778.9 2174.3L781.9 2173.3L784.9 2172.4L787.9 2171.4L788.1 2171.3L790.9 2170.5L793.9 2169.5L796.9 2168.6L799.9 2167.6L800.8 2167.3L802.8 2166.7L805.8 2165.8L808.8 2164.8L811.8 2163.9L813.6 2163.3L814.8 2163.0L817.8 2162.1L820.8 2161.1L823.8 2160.2L826.7 2159.3L826.8 2159.3L829.7 2158.4L832.7 2157.5L835.7 2156.6L838.7 2155.7L840.0 2155.3L841.7 2154.8L844.7 2153.9L847.7 2153.1L850.7 2152.2L853.5 2151.3L853.6 2151.3L856.6 2150.4L859.6 2149.6L862.6 2148.7L865.6 2147.8L867.3 2147.3L868.6 2147.0L871.6 2146.1L874.6 2145.3L877.5 2144.4L880.5 2143.6L881.3 2143.3L883.5 2142.7L886.5 2141.9L889.5 2141.0L892.5 2140.2L895.5 2139.4L895.5 2139.3L898.5 2138.5L901.5 2137.7L904.4 2136.9L907.4 2136.1L910.0 2135.3L910.4 2135.2L913.4 2134.4L916.4 2133.6L919.4 2132.8L922.4 2132.0L924.8 2131.3L925.4 2131.2L928.3 2130.4L931.3 2129.6L934.3 2128.8L937.3 2128.0L939.8 2127.3L940.3 2127.2L943.3 2126.4L946.3 2125.6L949.3 2124.8L952.2 2124.1L955.0 2123.3L955.2 2123.3L958.2 2122.5L961.2 2121.7L964.2 2121.0L967.2 2120.2L970.2 2119.4L970.5 2119.3L973.2 2118.7L976.2 2117.9L979.1 2117.2L982.1 2116.4L985.1 2115.6L986.3 2115.3L988.1 2114.9L991.1 2114.2L994.1 2113.4L997.1 2112.7L1000.1 2111.9L1002.4 2111.3L1003.0 2111.2L1006.0 2110.4L1009.0 2109.7L1012.0 2109.0L1015.0 2108.3L1018.0 2107.5L1018.8 2107.3L1021.0 2106.8L1024.0 2106.1L1027.0 2105.4L1029.9 2104.6L1032.9 2103.9L1035.4 2103.3L1035.9 2103.2L1038.9 2102.5L1041.9 2101.8L1044.9 2101.1L1047.9 2100.4L1050.9 2099.7L1052.3 2099.3L1053.8 2099.0L1056.8 2098.3L1059.8 2097.6L1062.8 2096.9L1065.8 2096.2L1068.8 2095.5L1069.5 2095.3L1071.8 2094.8L1074.8 2094.1L1077.8 2093.5L1080.7 2092.8L1083.7 2092.1L1086.7 2091.4L1087.0 2091.3L1089.7 2090.7L1092.7 2090.1L1095.7 2089.4L1098.7 2088.7L1101.7 2088.1M1218.2 2063.4L1218.4 2063.3L1221.2 2062.8L1224.2 2062.2L1227.2 2061.6L1230.1 2061.0L1233.1 2060.4L1236.1 2059.8L1238.5 2059.3L1239.1 2059.2L1242.1 2058.6L1245.1 2058.0L1248.1 2057.5L1251.1 2056.9L1254.0 2056.3L1257.0 2055.7L1259.0 2055.3L1260.0 2055.1L1263.0 2054.6L1266.0 2054.0L1269.0 2053.4L1272.0 2052.8L1275.0 2052.3L1278.0 2051.7L1279.8 2051.3L1280.9 2051.1L1283.9 2050.5L1286.9 2050.0L1289.9 2049.4L1292.9 2048.8L1295.9 2048.3L1298.9 2047.7L1300.9 2047.3L1301.9 2047.2L1304.8 2046.6L1307.8 2046.0L1310.8 2045.5L1313.8 2044.9L1316.8 2044.4L1319.8 2043.8L1322.5 2043.3L1322.8 2043.3L1325.8 2042.7L1328.8 2042.2L1331.7 2041.6L1334.7 2041.1L1337.7 2040.5L1340.7 2040.0L1343.7 2039.5L1344.4 2039.3L1346.7 2038.9L1349.7 2038.4L1352.7 2037.8L1355.6 2037.3L1358.6 2036.8L1361.6 2036.2L1364.6 2035.7L1366.7 2035.3L1367.6 2035.2L1370.6 2034.6L1373.6 2034.1L1376.6 2033.6L1379.5 2033.1L1382.5 2032.5L1385.5 2032.0L1388.5 2031.5L1389.3 2031.3L1391.5 2031.0" fill="none" stroke="#fff" stroke-width="6.6" clip-path="url(#clip1)"/>
<path d="M845.8 2763.4L846.0 2759.4L846.6 2755.4L847.5 2751.4L847.7 2751.0L848.8 2747.4L850.4 2743.4L850.7 2742.9L852.3 2739.4L853.6 2737.1L854.6 2735.4L856.6 2732.4L857.3 2731.4L859.6 2728.3L860.3 2727.4L862.6 2724.6L863.6 2723.4L865.6 2721.3L867.3 2719.4L868.6 2718.2L871.4 2715.4L871.6 2715.2L874.6 2712.6L875.9 2711.4L877.5 2710.0L880.5 2707.5L880.7 2707.4L883.5 2705.2L885.9 2703.4L886.5 2703.0L889.5 2700.8L891.5 2699.4L892.5 2698.7L895.5 2696.7L897.5 2695.4L898.5 2694.8L901.5 2692.9L903.9 2691.4L904.4 2691.1L907.4 2689.3L910.4 2687.6L910.8 2687.4L913.4 2685.9L916.4 2684.3L918.0 2683.4L919.4 2682.7L922.4 2681.1L925.4 2679.6L925.7 2679.4L928.3 2678.1L931.3 2676.6L933.9 2675.4L934.3 2675.2L937.3 2673.8L940.3 2672.4L942.5 2671.4L943.3 2671.0L946.3 2669.7L949.3 2668.4L951.6 2667.4L952.2 2667.1L955.2 2665.9L958.2 2664.6L961.2 2663.4L961.2 2663.4L964.2 2662.2L967.2 2661.0L970.2 2659.8L971.3 2659.4L973.2 2658.7L976.2 2657.6L979.1 2656.4L981.9 2655.4L982.1 2655.3L985.1 2654.2L988.1 2653.2L991.1 2652.1L993.1 2651.4L994.1 2651.1L997.1 2650.1L1000.1 2649.0L1003.0 2648.0L1005.0 2647.4L1006.0 2647.1L1009.0 2646.1L1012.0 2645.1L1015.0 2644.2L1017.5 2643.4L1018.0 2643.2L1021.0 2642.3L1024.0 2641.4L1027.0 2640.6L1029.9 2639.7L1030.9 2639.4L1032.9 2638.8L1035.9 2638.0L1038.9 2637.1L1041.9 2636.3L1044.9 2635.5L1045.1 2635.4L1047.9 2634.7L1050.9 2633.9L1053.8 2633.1L1056.8 2632.3L1059.8 2631.6L1060.5 2631.4L1062.8 2630.8L1065.8 2630.1L1068.8 2629.3L1071.8 2628.6L1074.8 2627.9L1076.7 2627.4L1077.8 2627.1L1080.7 2626.4L1083.7 2625.7L1086.7 2625.0L1089.7 2624.3L1092.7 2623.6L1093.7 2623.4L1095.7 2622.9L1098.7 2622.2L1101.7 2621.6L1104.6 2620.9L1107.6 2620.2L1110.6 2619.5L1111.2 2619.4L1113.6 2618.8L1116.6 2618.2L1119.6 2617.5L1122.6 2616.8L1125.6 2616.2L1128.5 2615.5L1129.1 2615.4L1131.5 2614.9L1134.5 2614.2L1137.5 2613.5L1140.5 2612.9L1143.5 2612.2L1146.5 2611.6L1147.4 2611.4L1149.5 2611.0L1152.5 2610.3L1155.4 2609.7L1158.4 2609.0L1161.4 2608.4L1164.4 2607.8L1166.2 2607.4L1167.4 2607.1L1170.4 2606.5L1173.4 2605.9L1176.4 2605.2L1179.3 2604.6L1182.3 2604.0L1185.2 2603.4L1185.3 2603.4L1188.3 2602.7L1191.3 2602.1L1194.3 2601.5L1197.3 2600.9L1200.3 2600.3L1203.2 2599.7L1204.7 2599.4L1206.2 2599.1L1209.2 2598.5L1212.2 2597.8L1215.2 2597.2L1218.2 2596.6L1221.2 2596.0L1224.2 2595.4L1224.4 2595.4L1227.2 2594.8L1230.1 2594.2L1233.1 2593.6L1236.1 2593.1L1239.1 2592.5L1242.1 2591.9L1244.6 2591.4L1245.1 2591.3L1248.1 2590.7L1251.1 2590.1L1254.0 2589.5L1257.0 2588.9M1373.1 2567.4L1373.6 2567.3L1376.6 2566.8L1379.5 2566.2L1382.5 2565.7L1385.5 2565.2L1388.5 2564.7L1391.5 2564.1" fill="none" stroke="#fff" stroke-width="6.6" clip-path="url(#clip1)"/>
<text transform="translate(559.00 522.00) rotate(-26.5)" fill="#fff" stroke="#ba0d32" stroke-width="0.9"><tspan stroke="none"><tspan x="-65.30" y="15.66" font-size="52.00" textLength="48.51" lengthAdjust="spacingAndGlyphs">−</tspan></tspan><tspan x="-14.20" y="14.66" font-size="65.00" textLength="77.68" lengthAdjust="spacingAndGlyphs">2.5</tspan></text>
<text transform="translate(1166.50 871.50) rotate(-12.5)" fill="#fff" stroke="#e66106" stroke-width="0.9"><tspan stroke="none"><tspan x="-67.30" y="15.66" font-size="52.00" textLength="48.51" lengthAdjust="spacingAndGlyphs">−</tspan></tspan><tspan x="-16.95" y="14.50" font-size="65.00" textLength="82.59" lengthAdjust="spacingAndGlyphs">1.5</tspan></text>
<text transform="translate(1320.00 1374.00) rotate(-11)" fill="#fff" stroke="#f2b520" stroke-width="0.9"><tspan stroke="none"><tspan x="-65.30" y="15.66" font-size="52.00" textLength="48.51" lengthAdjust="spacingAndGlyphs">−</tspan></tspan><tspan x="-14.50" y="14.82" font-size="65.00" textLength="77.99" lengthAdjust="spacingAndGlyphs">0.5</tspan></text>
<text transform="translate(490.10 1761.20) rotate(-29.5)" fill="#fff" stroke="#3b1935" stroke-width="0.9"><tspan stroke="none"><tspan x="-44.30" y="15.66" font-size="52.00" textLength="48.51" lengthAdjust="spacingAndGlyphs">−</tspan></tspan><tspan x="5.58" y="15.15" font-size="65.00" textLength="35.48" lengthAdjust="spacingAndGlyphs">4</tspan></text>
<text transform="translate(1161.70 2075.40) rotate(-12.5)" fill="#fff" stroke="#921147" stroke-width="0.9"><tspan stroke="none"><tspan x="-42.20" y="15.66" font-size="52.00" textLength="48.51" lengthAdjust="spacingAndGlyphs">−</tspan></tspan><tspan x="9.29" y="14.82" font-size="65.00" textLength="31.10" lengthAdjust="spacingAndGlyphs">3</tspan></text>
<text transform="translate(1317.60 2576.90) rotate(-10.7)" fill="#fff" stroke="#d6351b" stroke-width="0.9"><tspan stroke="none"><tspan x="-42.20" y="15.66" font-size="52.00" textLength="48.51" lengthAdjust="spacingAndGlyphs">−</tspan></tspan><tspan x="9.53" y="15.15" font-size="65.00" textLength="31.87" lengthAdjust="spacingAndGlyphs">2</tspan></text>
</g>
<polygon points="499.9,719.3 506.3,738.9 526.8,738.9 510.2,750.9 516.5,770.5 499.9,758.4 483.3,770.5 489.6,750.9 473.0,738.9 493.5,738.9" fill="#afeeee" stroke="#000" stroke-width="2.8" stroke-linejoin="miter"/>
<rect x="199.25" y="443.30" width="1192.25" height="1100.10" fill="none" stroke="#000" stroke-width="2.5"/>
<line x1="188.05" y1="465.60" x2="199.25" y2="465.60" stroke="#000" stroke-width="2.5"/>
<text transform="translate(0.00 0.00)"><tspan x="102.73" y="481.57" font-size="43.60" textLength="74.38" lengthAdjust="spacingAndGlyphs" stroke="#fff" stroke-width="0.55">0.00</tspan></text>
<line x1="188.05" y1="600.33" x2="199.25" y2="600.33" stroke="#000" stroke-width="2.5"/>
<text transform="translate(0.00 0.00)"><tspan x="70.00" y="615.25" font-size="34.00" textLength="31.53" lengthAdjust="spacingAndGlyphs">−</tspan><tspan x="102.73" y="616.29" font-size="43.60" textLength="74.38" lengthAdjust="spacingAndGlyphs" stroke="#fff" stroke-width="0.55">0.25</tspan></text>
<line x1="188.05" y1="735.05" x2="199.25" y2="735.05" stroke="#000" stroke-width="2.5"/>
<text transform="translate(0.00 0.00)"><tspan x="70.00" y="749.97" font-size="34.00" textLength="31.53" lengthAdjust="spacingAndGlyphs">−</tspan><tspan x="102.73" y="751.02" font-size="43.60" textLength="74.38" lengthAdjust="spacingAndGlyphs" stroke="#fff" stroke-width="0.55">0.50</tspan></text>
<line x1="188.05" y1="869.77" x2="199.25" y2="869.77" stroke="#000" stroke-width="2.5"/>
<text transform="translate(0.00 0.00)"><tspan x="70.00" y="884.70" font-size="34.00" textLength="31.53" lengthAdjust="spacingAndGlyphs">−</tspan><tspan x="102.73" y="885.74" font-size="43.60" textLength="74.38" lengthAdjust="spacingAndGlyphs" stroke="#fff" stroke-width="0.55">0.75</tspan></text>
<line x1="188.05" y1="1004.50" x2="199.25" y2="1004.50" stroke="#000" stroke-width="2.5"/>
<text transform="translate(0.00 0.00)"><tspan x="70.00" y="1019.42" font-size="34.00" textLength="31.53" lengthAdjust="spacingAndGlyphs">−</tspan><tspan x="102.73" y="1020.47" font-size="43.60" textLength="74.38" lengthAdjust="spacingAndGlyphs" stroke="#fff" stroke-width="0.55">1.00</tspan></text>
<line x1="188.05" y1="1139.22" x2="199.25" y2="1139.22" stroke="#000" stroke-width="2.5"/>
<text transform="translate(0.00 0.00)"><tspan x="70.00" y="1154.14" font-size="34.00" textLength="31.53" lengthAdjust="spacingAndGlyphs">−</tspan><tspan x="102.73" y="1155.09" font-size="43.60" textLength="74.38" lengthAdjust="spacingAndGlyphs" stroke="#fff" stroke-width="0.55">1.25</tspan></text>
<line x1="188.05" y1="1273.95" x2="199.25" y2="1273.95" stroke="#000" stroke-width="2.5"/>
<text transform="translate(0.00 0.00)"><tspan x="70.00" y="1288.87" font-size="34.00" textLength="31.53" lengthAdjust="spacingAndGlyphs">−</tspan><tspan x="102.73" y="1289.92" font-size="43.60" textLength="74.38" lengthAdjust="spacingAndGlyphs" stroke="#fff" stroke-width="0.55">1.50</tspan></text>
<line x1="188.05" y1="1408.67" x2="199.25" y2="1408.67" stroke="#000" stroke-width="2.5"/>
<text transform="translate(0.00 0.00)"><tspan x="70.00" y="1423.60" font-size="34.00" textLength="31.53" lengthAdjust="spacingAndGlyphs">−</tspan><tspan x="102.73" y="1424.43" font-size="43.60" textLength="74.38" lengthAdjust="spacingAndGlyphs" stroke="#fff" stroke-width="0.55">1.75</tspan></text>
<line x1="188.05" y1="1543.40" x2="199.25" y2="1543.40" stroke="#000" stroke-width="2.5"/>
<text transform="translate(0.00 0.00)"><tspan x="70.00" y="1558.32" font-size="34.00" textLength="31.53" lengthAdjust="spacingAndGlyphs">−</tspan><tspan x="102.73" y="1559.37" font-size="43.60" textLength="74.38" lengthAdjust="spacingAndGlyphs" stroke="#fff" stroke-width="0.55">2.00</tspan></text>
<line x1="199.25" y1="1543.40" x2="199.25" y2="1554.00" stroke="#000" stroke-width="2.5"/>
<text transform="translate(199.85 1581.60)"><tspan x="-22.31" y="14.28" font-size="43.60" textLength="42.50" lengthAdjust="spacingAndGlyphs" stroke="#fff" stroke-width="0.55">10</tspan></text>
<line x1="331.72" y1="1543.40" x2="331.72" y2="1554.00" stroke="#000" stroke-width="2.5"/>
<text transform="translate(332.32 1581.60)"><tspan x="-21.36" y="14.28" font-size="43.60" textLength="42.50" lengthAdjust="spacingAndGlyphs" stroke="#fff" stroke-width="0.55">20</tspan></text>
<line x1="464.19" y1="1543.40" x2="464.19" y2="1554.00" stroke="#000" stroke-width="2.5"/>
<text transform="translate(464.79 1581.60)"><tspan x="-21.46" y="14.28" font-size="43.60" textLength="42.50" lengthAdjust="spacingAndGlyphs" stroke="#fff" stroke-width="0.55">30</tspan></text>
<line x1="596.67" y1="1543.40" x2="596.67" y2="1554.00" stroke="#000" stroke-width="2.5"/>
<text transform="translate(597.27 1581.60)"><tspan x="-20.82" y="14.28" font-size="43.60" textLength="42.50" lengthAdjust="spacingAndGlyphs" stroke="#fff" stroke-width="0.55">40</tspan></text>
<line x1="729.14" y1="1543.40" x2="729.14" y2="1554.00" stroke="#000" stroke-width="2.5"/>
<text transform="translate(729.74 1581.60)"><tspan x="-21.68" y="14.28" font-size="43.60" textLength="42.50" lengthAdjust="spacingAndGlyphs" stroke="#fff" stroke-width="0.55">50</tspan></text>
<line x1="861.61" y1="1543.40" x2="861.61" y2="1554.00" stroke="#000" stroke-width="2.5"/>
<text transform="translate(862.21 1581.60)"><tspan x="-21.36" y="14.28" font-size="43.60" textLength="42.50" lengthAdjust="spacingAndGlyphs" stroke="#fff" stroke-width="0.55">60</tspan></text>
<line x1="994.08" y1="1543.40" x2="994.08" y2="1554.00" stroke="#000" stroke-width="2.5"/>
<text transform="translate(994.68 1581.60)"><tspan x="-21.78" y="14.28" font-size="43.60" textLength="42.50" lengthAdjust="spacingAndGlyphs" stroke="#fff" stroke-width="0.55">70</tspan></text>
<line x1="1126.56" y1="1543.40" x2="1126.56" y2="1554.00" stroke="#000" stroke-width="2.5"/>
<text transform="translate(1127.16 1581.60)"><tspan x="-21.25" y="14.28" font-size="43.60" textLength="42.50" lengthAdjust="spacingAndGlyphs" stroke="#fff" stroke-width="0.55">80</tspan></text>
<line x1="1259.03" y1="1543.40" x2="1259.03" y2="1554.00" stroke="#000" stroke-width="2.5"/>
<text transform="translate(1259.63 1581.60)"><tspan x="-21.04" y="14.28" font-size="43.60" textLength="42.50" lengthAdjust="spacingAndGlyphs" stroke="#fff" stroke-width="0.55">90</tspan></text>
<line x1="1391.50" y1="1543.40" x2="1391.50" y2="1554.00" stroke="#000" stroke-width="2.5"/>
<text transform="translate(1392.10 1581.60)"><tspan x="-32.94" y="14.28" font-size="43.60" textLength="63.75" lengthAdjust="spacingAndGlyphs" stroke="#fff" stroke-width="0.55">100</tspan></text>
<rect x="199.25" y="1663.30" width="1192.25" height="1100.10" fill="none" stroke="#000" stroke-width="2.5"/>
<line x1="188.05" y1="1685.60" x2="199.25" y2="1685.60" stroke="#000" stroke-width="2.5"/>
<text transform="translate(0.00 0.00)"><tspan x="102.73" y="1701.57" font-size="43.60" textLength="74.38" lengthAdjust="spacingAndGlyphs" stroke="#fff" stroke-width="0.55">0.00</tspan></text>
<line x1="188.05" y1="1820.32" x2="199.25" y2="1820.32" stroke="#000" stroke-width="2.5"/>
<text transform="translate(0.00 0.00)"><tspan x="70.00" y="1835.24" font-size="34.00" textLength="31.53" lengthAdjust="spacingAndGlyphs">−</tspan><tspan x="102.73" y="1836.29" font-size="43.60" textLength="74.38" lengthAdjust="spacingAndGlyphs" stroke="#fff" stroke-width="0.55">0.25</tspan></text>
<line x1="188.05" y1="1955.05" x2="199.25" y2="1955.05" stroke="#000" stroke-width="2.5"/>
<text transform="translate(0.00 0.00)"><tspan x="70.00" y="1969.97" font-size="34.00" textLength="31.53" lengthAdjust="spacingAndGlyphs">−</tspan><tspan x="102.73" y="1971.02" font-size="43.60" textLength="74.38" lengthAdjust="spacingAndGlyphs" stroke="#fff" stroke-width="0.55">0.50</tspan></text>
<line x1="188.05" y1="2089.77" x2="199.25" y2="2089.77" stroke="#000" stroke-width="2.5"/>
<text transform="translate(0.00 0.00)"><tspan x="70.00" y="2104.69" font-size="34.00" textLength="31.53" lengthAdjust="spacingAndGlyphs">−</tspan><tspan x="102.73" y="2105.74" font-size="43.60" textLength="74.38" lengthAdjust="spacingAndGlyphs" stroke="#fff" stroke-width="0.55">0.75</tspan></text>
<line x1="188.05" y1="2224.50" x2="199.25" y2="2224.50" stroke="#000" stroke-width="2.5"/>
<text transform="translate(0.00 0.00)"><tspan x="70.00" y="2239.42" font-size="34.00" textLength="31.53" lengthAdjust="spacingAndGlyphs">−</tspan><tspan x="102.73" y="2240.47" font-size="43.60" textLength="74.38" lengthAdjust="spacingAndGlyphs" stroke="#fff" stroke-width="0.55">1.00</tspan></text>
<line x1="188.05" y1="2359.22" x2="199.25" y2="2359.22" stroke="#000" stroke-width="2.5"/>
<text transform="translate(0.00 0.00)"><tspan x="70.00" y="2374.14" font-size="34.00" textLength="31.53" lengthAdjust="spacingAndGlyphs">−</tspan><tspan x="102.73" y="2375.09" font-size="43.60" textLength="74.38" lengthAdjust="spacingAndGlyphs" stroke="#fff" stroke-width="0.55">1.25</tspan></text>
<line x1="188.05" y1="2493.95" x2="199.25" y2="2493.95" stroke="#000" stroke-width="2.5"/>
<text transform="translate(0.00 0.00)"><tspan x="70.00" y="2508.87" font-size="34.00" textLength="31.53" lengthAdjust="spacingAndGlyphs">−</tspan><tspan x="102.73" y="2509.92" font-size="43.60" textLength="74.38" lengthAdjust="spacingAndGlyphs" stroke="#fff" stroke-width="0.55">1.50</tspan></text>
<line x1="188.05" y1="2628.67" x2="199.25" y2="2628.67" stroke="#000" stroke-width="2.5"/>
<text transform="translate(0.00 0.00)"><tspan x="70.00" y="2643.59" font-size="34.00" textLength="31.53" lengthAdjust="spacingAndGlyphs">−</tspan><tspan x="102.73" y="2644.43" font-size="43.60" textLength="74.38" lengthAdjust="spacingAndGlyphs" stroke="#fff" stroke-width="0.55">1.75</tspan></text>
<line x1="188.05" y1="2763.40" x2="199.25" y2="2763.40" stroke="#000" stroke-width="2.5"/>
<text transform="translate(0.00 0.00)"><tspan x="70.00" y="2778.32" font-size="34.00" textLength="31.53" lengthAdjust="spacingAndGlyphs">−</tspan><tspan x="102.73" y="2779.37" font-size="43.60" textLength="74.38" lengthAdjust="spacingAndGlyphs" stroke="#fff" stroke-width="0.55">2.00</tspan></text>
<line x1="199.25" y1="2763.40" x2="199.25" y2="2774.00" stroke="#000" stroke-width="2.5"/>
<text transform="translate(199.85 2801.60)"><tspan x="-22.31" y="14.28" font-size="43.60" textLength="42.50" lengthAdjust="spacingAndGlyphs" stroke="#fff" stroke-width="0.55">10</tspan></text>
<line x1="331.72" y1="2763.40" x2="331.72" y2="2774.00" stroke="#000" stroke-width="2.5"/>
<text transform="translate(332.32 2801.60)"><tspan x="-21.36" y="14.28" font-size="43.60" textLength="42.50" lengthAdjust="spacingAndGlyphs" stroke="#fff" stroke-width="0.55">20</tspan></text>
<line x1="464.19" y1="2763.40" x2="464.19" y2="2774.00" stroke="#000" stroke-width="2.5"/>
<text transform="translate(464.79 2801.60)"><tspan x="-21.46" y="14.28" font-size="43.60" textLength="42.50" lengthAdjust="spacingAndGlyphs" stroke="#fff" stroke-width="0.55">30</tspan></text>
<line x1="596.67" y1="2763.40" x2="596.67" y2="2774.00" stroke="#000" stroke-width="2.5"/>
<text transform="translate(597.27 2801.60)"><tspan x="-20.82" y="14.28" font-size="43.60" textLength="42.50" lengthAdjust="spacingAndGlyphs" stroke="#fff" stroke-width="0.55">40</tspan></text>
<line x1="729.14" y1="2763.40" x2="729.14" y2="2774.00" stroke="#000" stroke-width="2.5"/>
<text transform="translate(729.74 2801.60)"><tspan x="-21.68" y="14.28" font-size="43.60" textLength="42.50" lengthAdjust="spacingAndGlyphs" stroke="#fff" stroke-width="0.55">50</tspan></text>
<line x1="861.61" y1="2763.40" x2="861.61" y2="2774.00" stroke="#000" stroke-width="2.5"/>
<text transform="translate(862.21 2801.60)"><tspan x="-21.36" y="14.28" font-size="43.60" textLength="42.50" lengthAdjust="spacingAndGlyphs" stroke="#fff" stroke-width="0.55">60</tspan></text>
<line x1="994.08" y1="2763.40" x2="994.08" y2="2774.00" stroke="#000" stroke-width="2.5"/>
<text transform="translate(994.68 2801.60)"><tspan x="-21.78" y="14.28" font-size="43.60" textLength="42.50" lengthAdjust="spacingAndGlyphs" stroke="#fff" stroke-width="0.55">70</tspan></text>
<line x1="1126.56" y1="2763.40" x2="1126.56" y2="2774.00" stroke="#000" stroke-width="2.5"/>
<text transform="translate(1127.16 2801.60)"><tspan x="-21.25" y="14.28" font-size="43.60" textLength="42.50" lengthAdjust="spacingAndGlyphs" stroke="#fff" stroke-width="0.55">80</tspan></text>
<line x1="1259.03" y1="2763.40" x2="1259.03" y2="2774.00" stroke="#000" stroke-width="2.5"/>
<text transform="translate(1259.63 2801.60)"><tspan x="-21.04" y="14.28" font-size="43.60" textLength="42.50" lengthAdjust="spacingAndGlyphs" stroke="#fff" stroke-width="0.55">90</tspan></text>
<line x1="1391.50" y1="2763.40" x2="1391.50" y2="2774.00" stroke="#000" stroke-width="2.5"/>
<text transform="translate(1392.10 2801.60)"><tspan x="-32.94" y="14.28" font-size="43.60" textLength="63.75" lengthAdjust="spacingAndGlyphs" stroke="#fff" stroke-width="0.55">100</tspan></text>
<text transform="translate(43.00 1128.20) rotate(-90)"><tspan x="-0.51" y="0.00" font-size="54.50" textLength="64.53" lengthAdjust="spacingAndGlyphs" stroke="#fff" stroke-width="0.55">log</tspan><tspan x="63.88" y="12.81" font-size="39.00" textLength="38.00" lengthAdjust="spacingAndGlyphs" stroke="#fff" stroke-width="0.55">10</tspan><tspan x="115.85" y="0.30" font-size="61.30" textLength="15.92" lengthAdjust="spacingAndGlyphs" stroke="#fff" stroke-width="0.55">(</tspan><tspan x="133.89" y="0.00" font-size="54.50" textLength="28.50" lengthAdjust="spacingAndGlyphs" font-style="italic" stroke="#fff" stroke-width="0.55">a</tspan><tspan x="164.30" y="12.36" font-size="83.00" textLength="20.56" lengthAdjust="spacingAndGlyphs" stroke="#fff" stroke-width="0.55">/</tspan><tspan x="190.92" y="0.00" font-size="57.00" textLength="39.40" lengthAdjust="spacingAndGlyphs" font-style="italic" stroke="#fff" stroke-width="0.55">R</tspan><tspan x="229.07" y="9.30" font-size="37.00" textLength="20.50" lengthAdjust="spacingAndGlyphs" font-style="italic" stroke="#fff" stroke-width="0.55">a</tspan><tspan x="251.97" y="0.30" font-size="61.30" textLength="15.92" lengthAdjust="spacingAndGlyphs" stroke="#fff" stroke-width="0.55">)</tspan></text>
<text transform="translate(43.00 2348.20) rotate(-90)"><tspan x="-0.51" y="0.00" font-size="54.50" textLength="64.53" lengthAdjust="spacingAndGlyphs" stroke="#fff" stroke-width="0.55">log</tspan><tspan x="63.88" y="12.81" font-size="39.00" textLength="38.00" lengthAdjust="spacingAndGlyphs" stroke="#fff" stroke-width="0.55">10</tspan><tspan x="115.85" y="0.30" font-size="61.30" textLength="15.92" lengthAdjust="spacingAndGlyphs" stroke="#fff" stroke-width="0.55">(</tspan><tspan x="133.89" y="0.00" font-size="54.50" textLength="28.50" lengthAdjust="spacingAndGlyphs" font-style="italic" stroke="#fff" stroke-width="0.55">a</tspan><tspan x="164.30" y="12.36" font-size="83.00" textLength="20.56" lengthAdjust="spacingAndGlyphs" stroke="#fff" stroke-width="0.55">/</tspan><tspan x="190.92" y="0.00" font-size="57.00" textLength="39.40" lengthAdjust="spacingAndGlyphs" font-style="italic" stroke="#fff" stroke-width="0.55">R</tspan><tspan x="229.07" y="9.30" font-size="37.00" textLength="20.50" lengthAdjust="spacingAndGlyphs" font-style="italic" stroke="#fff" stroke-width="0.55">a</tspan><tspan x="251.97" y="0.30" font-size="61.30" textLength="15.92" lengthAdjust="spacingAndGlyphs" stroke="#fff" stroke-width="0.55">)</tspan></text>
<text transform="translate(679.50 2877.50)"><tspan x="0.59" y="0.00" font-size="57.00" textLength="49.15" lengthAdjust="spacingAndGlyphs" font-style="italic" stroke="#fff" stroke-width="0.55">M</tspan><tspan x="47.40" y="8.50" font-size="38.50" textLength="55.57" lengthAdjust="spacingAndGlyphs" stroke="#fff" stroke-width="0.55">BH</tspan><tspan> </tspan><tspan x="125.35" y="5.22" font-size="68.00" textLength="13.99" lengthAdjust="spacingAndGlyphs" stroke="#fff" stroke-width="0.55">[</tspan><tspan x="139.89" y="0.00" font-size="57.00" textLength="49.15" lengthAdjust="spacingAndGlyphs" font-style="italic" stroke="#fff" stroke-width="0.55">M</tspan><tspan x="185.93" y="12.45" font-size="44.00" textLength="36.87" lengthAdjust="spacingAndGlyphs" stroke="#fff" stroke-width="0.50">⊙</tspan><tspan x="220.03" y="5.22" font-size="68.00" textLength="13.99" lengthAdjust="spacingAndGlyphs" stroke="#fff" stroke-width="0.55">]</tspan></text>
<rect x="1465.8" y="443.30" width="55.20" height="1100.10" fill="url(#cb)" stroke="#000" stroke-width="2.5"/>
<line x1="1521.00" y1="443.30" x2="1532.00" y2="443.30" stroke="#000" stroke-width="2.5"/>
<text transform="translate(0.00 0.00)"><tspan x="1542.60" y="459.18" font-size="43.60" textLength="21.25" lengthAdjust="spacingAndGlyphs" stroke="#fff" stroke-width="0.55">0</tspan></text>
<line x1="1521.00" y1="663.32" x2="1532.00" y2="663.32" stroke="#000" stroke-width="2.5"/>
<text transform="translate(0.00 0.00)"><tspan x="1543.50" y="677.84" font-size="34.00" textLength="31.53" lengthAdjust="spacingAndGlyphs">−</tspan><tspan x="1576.70" y="679.20" font-size="43.60" textLength="21.25" lengthAdjust="spacingAndGlyphs" stroke="#fff" stroke-width="0.55">1</tspan></text>
<line x1="1521.00" y1="883.34" x2="1532.00" y2="883.34" stroke="#000" stroke-width="2.5"/>
<text transform="translate(0.00 0.00)"><tspan x="1543.50" y="897.86" font-size="34.00" textLength="31.53" lengthAdjust="spacingAndGlyphs">−</tspan><tspan x="1576.49" y="899.33" font-size="43.60" textLength="21.25" lengthAdjust="spacingAndGlyphs" stroke="#fff" stroke-width="0.55">2</tspan></text>
<line x1="1521.00" y1="1103.36" x2="1532.00" y2="1103.36" stroke="#000" stroke-width="2.5"/>
<text transform="translate(0.00 0.00)"><tspan x="1543.50" y="1117.88" font-size="34.00" textLength="31.53" lengthAdjust="spacingAndGlyphs">−</tspan><tspan x="1575.85" y="1119.13" font-size="43.60" textLength="21.25" lengthAdjust="spacingAndGlyphs" stroke="#fff" stroke-width="0.55">3</tspan></text>
<line x1="1521.00" y1="1323.38" x2="1532.00" y2="1323.38" stroke="#000" stroke-width="2.5"/>
<text transform="translate(0.00 0.00)"><tspan x="1543.50" y="1337.90" font-size="34.00" textLength="31.53" lengthAdjust="spacingAndGlyphs">−</tspan><tspan x="1574.79" y="1339.37" font-size="43.60" textLength="21.25" lengthAdjust="spacingAndGlyphs" stroke="#fff" stroke-width="0.55">4</tspan></text>
<line x1="1521.00" y1="1543.40" x2="1532.00" y2="1543.40" stroke="#000" stroke-width="2.5"/>
<text transform="translate(0.00 0.00)"><tspan x="1543.50" y="1557.92" font-size="34.00" textLength="31.53" lengthAdjust="spacingAndGlyphs">−</tspan><tspan x="1575.85" y="1559.06" font-size="43.60" textLength="21.25" lengthAdjust="spacingAndGlyphs" stroke="#fff" stroke-width="0.55">5</tspan></text>
<text transform="translate(1651.00 1087.40) rotate(-90)"><tspan x="-2.55" y="5.62" font-size="68.00" textLength="13.99" lengthAdjust="spacingAndGlyphs" stroke="#fff" stroke-width="0.55">[</tspan><tspan x="15.53" y="0.00" font-size="56.00" textLength="49.00" lengthAdjust="spacingAndGlyphs" stroke="#fff" stroke-width="0.55">Fe</tspan><tspan x="64.20" y="13.06" font-size="83.00" textLength="23.62" lengthAdjust="spacingAndGlyphs" stroke="#fff" stroke-width="0.55">/</tspan><tspan x="87.98" y="0.00" font-size="56.00" textLength="39.00" lengthAdjust="spacingAndGlyphs" stroke="#fff" stroke-width="0.55">H</tspan><tspan x="126.03" y="5.62" font-size="68.00" textLength="13.99" lengthAdjust="spacingAndGlyphs" stroke="#fff" stroke-width="0.55">]</tspan><tspan x="139.63" y="9.42" font-size="38.50" textLength="54.60" lengthAdjust="spacingAndGlyphs" stroke="#fff" stroke-width="0.55">obs</tspan></text>
<rect x="1465.8" y="1663.30" width="55.20" height="1100.10" fill="url(#cb)" stroke="#000" stroke-width="2.5"/>
<line x1="1521.00" y1="1663.30" x2="1532.00" y2="1663.30" stroke="#000" stroke-width="2.5"/>
<text transform="translate(0.00 0.00)"><tspan x="1542.60" y="1679.18" font-size="43.60" textLength="21.25" lengthAdjust="spacingAndGlyphs" stroke="#fff" stroke-width="0.55">0</tspan></text>
<line x1="1521.00" y1="1883.32" x2="1532.00" y2="1883.32" stroke="#000" stroke-width="2.5"/>
<text transform="translate(0.00 0.00)"><tspan x="1543.50" y="1897.84" font-size="34.00" textLength="31.53" lengthAdjust="spacingAndGlyphs">−</tspan><tspan x="1576.70" y="1899.20" font-size="43.60" textLength="21.25" lengthAdjust="spacingAndGlyphs" stroke="#fff" stroke-width="0.55">1</tspan></text>
<line x1="1521.00" y1="2103.34" x2="1532.00" y2="2103.34" stroke="#000" stroke-width="2.5"/>
<text transform="translate(0.00 0.00)"><tspan x="1543.50" y="2117.86" font-size="34.00" textLength="31.53" lengthAdjust="spacingAndGlyphs">−</tspan><tspan x="1576.49" y="2119.33" font-size="43.60" textLength="21.25" lengthAdjust="spacingAndGlyphs" stroke="#fff" stroke-width="0.55">2</tspan></text>
<line x1="1521.00" y1="2323.36" x2="1532.00" y2="2323.36" stroke="#000" stroke-width="2.5"/>
<text transform="translate(0.00 0.00)"><tspan x="1543.50" y="2337.88" font-size="34.00" textLength="31.53" lengthAdjust="spacingAndGlyphs">−</tspan><tspan x="1575.85" y="2339.13" font-size="43.60" textLength="21.25" lengthAdjust="spacingAndGlyphs" stroke="#fff" stroke-width="0.55">3</tspan></text>
<line x1="1521.00" y1="2543.38" x2="1532.00" y2="2543.38" stroke="#000" stroke-width="2.5"/>
<text transform="translate(0.00 0.00)"><tspan x="1543.50" y="2557.90" font-size="34.00" textLength="31.53" lengthAdjust="spacingAndGlyphs">−</tspan><tspan x="1574.79" y="2559.37" font-size="43.60" textLength="21.25" lengthAdjust="spacingAndGlyphs" stroke="#fff" stroke-width="0.55">4</tspan></text>
<line x1="1521.00" y1="2763.40" x2="1532.00" y2="2763.40" stroke="#000" stroke-width="2.5"/>
<text transform="translate(0.00 0.00)"><tspan x="1543.50" y="2777.92" font-size="34.00" textLength="31.53" lengthAdjust="spacingAndGlyphs">−</tspan><tspan x="1575.85" y="2779.06" font-size="43.60" textLength="21.25" lengthAdjust="spacingAndGlyphs" stroke="#fff" stroke-width="0.55">5</tspan></text>
<text transform="translate(1651.00 2307.40) rotate(-90)"><tspan x="-2.55" y="5.62" font-size="68.00" textLength="13.99" lengthAdjust="spacingAndGlyphs" stroke="#fff" stroke-width="0.55">[</tspan><tspan x="15.53" y="0.00" font-size="56.00" textLength="49.00" lengthAdjust="spacingAndGlyphs" stroke="#fff" stroke-width="0.55">Fe</tspan><tspan x="64.20" y="13.06" font-size="83.00" textLength="23.62" lengthAdjust="spacingAndGlyphs" stroke="#fff" stroke-width="0.55">/</tspan><tspan x="87.98" y="0.00" font-size="56.00" textLength="39.00" lengthAdjust="spacingAndGlyphs" stroke="#fff" stroke-width="0.55">H</tspan><tspan x="126.03" y="5.62" font-size="68.00" textLength="13.99" lengthAdjust="spacingAndGlyphs" stroke="#fff" stroke-width="0.55">]</tspan><tspan x="139.63" y="9.42" font-size="38.50" textLength="54.60" lengthAdjust="spacingAndGlyphs" stroke="#fff" stroke-width="0.55">obs</tspan></text>
<line x1="199.10" y1="9.00" x2="199.10" y2="361.15" stroke="#000" stroke-width="1.7"/>
<line x1="198.25" y1="360.30" x2="1390.85" y2="360.30" stroke="#000" stroke-width="1.7"/>
<line x1="192.10" y1="360.30" x2="199.10" y2="360.30" stroke="#000" stroke-width="1.7"/>
<text transform="translate(183.60 362.60)"><tspan x="-55.05" y="15.76" font-size="48.50" textLength="56.88" lengthAdjust="spacingAndGlyphs" stroke="#fff" stroke-width="0.55">0.0</tspan></text>
<line x1="192.10" y1="203.65" x2="199.10" y2="203.65" stroke="#000" stroke-width="1.7"/>
<text transform="translate(183.60 205.95)"><tspan x="-54.37" y="15.76" font-size="48.50" textLength="56.88" lengthAdjust="spacingAndGlyphs" stroke="#fff" stroke-width="0.55">0.2</tspan></text>
<line x1="192.10" y1="47.00" x2="199.10" y2="47.00" stroke="#000" stroke-width="1.7"/>
<text transform="translate(183.60 49.30)"><tspan x="-56.19" y="15.76" font-size="48.50" textLength="56.88" lengthAdjust="spacingAndGlyphs" stroke="#fff" stroke-width="0.55">0.4</tspan></text>
<line x1="331.42" y1="360.30" x2="331.42" y2="367.60" stroke="#000" stroke-width="1.7"/>
<line x1="596.07" y1="360.30" x2="596.07" y2="367.60" stroke="#000" stroke-width="1.7"/>
<line x1="860.71" y1="360.30" x2="860.71" y2="367.60" stroke="#000" stroke-width="1.7"/>
<line x1="1125.36" y1="360.30" x2="1125.36" y2="367.60" stroke="#000" stroke-width="1.7"/>
<line x1="1390.00" y1="360.30" x2="1390.00" y2="367.60" stroke="#000" stroke-width="1.7"/>
<path d="M194.0 182.7C195.1 179.7 198.5 170.5 200.8 164.7C203.0 158.9 205.3 153.2 207.5 147.7C209.8 142.3 212.0 137.0 214.3 131.9C216.5 126.8 219.6 120.3 221.0 117.4C222.4 114.4 221.6 116.1 222.7 113.9C223.8 111.7 225.8 107.8 227.8 104.2C229.7 100.6 232.3 96.2 234.5 92.6C236.8 89.0 239.0 85.6 241.3 82.6C243.5 79.6 245.8 76.8 248.0 74.4C250.3 72.0 253.5 69.2 254.8 68.1C256.0 66.9 254.3 68.3 255.4 67.6C256.5 66.8 259.4 64.7 261.5 63.7C263.7 62.7 266.0 61.8 268.3 61.4C270.5 60.9 272.8 60.9 275.0 61.2C277.3 61.5 280.5 62.8 281.8 63.2C283.0 63.6 281.5 62.9 282.6 63.6C283.7 64.4 286.4 65.9 288.5 67.8C290.7 69.6 293.0 72.1 295.3 75.0C297.5 77.8 299.8 81.2 302.0 84.8C304.3 88.4 306.5 92.5 308.8 96.8C311.0 101.1 314.1 107.5 315.6 110.5C317.0 113.5 316.4 112.2 317.5 114.7C318.6 117.2 320.4 121.1 322.3 125.5C324.2 129.9 326.8 135.9 329.1 141.2C331.3 146.5 333.6 151.9 335.8 157.3C338.1 162.6 340.3 168.0 342.6 173.2C344.8 178.4 347.2 184.0 349.3 188.5C351.4 193.1 353.9 198.3 355.0 200.7C356.1 203.0 354.8 200.3 356.1 202.8C357.4 205.3 360.6 211.6 362.8 215.7C365.1 219.8 367.3 223.6 369.6 227.2C371.8 230.8 374.1 234.2 376.3 237.4C378.6 240.5 380.8 243.5 383.1 246.2C385.3 249.0 388.3 252.1 389.8 253.8C391.4 255.6 391.4 255.5 392.5 256.5C393.6 257.6 394.8 258.8 396.6 260.3C398.4 261.8 401.1 264.0 403.3 265.6C405.6 267.2 407.8 268.6 410.1 269.8C412.3 271.0 414.6 272.1 416.8 273.1C419.1 274.0 421.4 274.8 423.6 275.5C425.8 276.2 428.9 277.0 430.0 277.3C431.1 277.6 429.2 277.1 430.3 277.4C431.5 277.6 434.9 278.3 437.1 278.7C439.4 279.1 441.6 279.5 443.9 279.8C446.1 280.1 448.4 280.4 450.6 280.7C452.9 281.0 455.1 281.3 457.4 281.6C459.6 282.0 462.0 282.3 464.1 282.7C466.2 283.1 468.9 283.7 470.0 283.9C471.1 284.2 469.6 283.8 470.9 284.2C472.1 284.5 475.4 285.3 477.6 286.0C479.9 286.7 482.1 287.5 484.4 288.3C486.6 289.1 488.9 290.0 491.1 291.0C493.4 291.9 495.6 292.9 497.9 293.9C500.1 294.9 502.4 296.0 504.6 297.1C506.9 298.1 509.1 299.3 511.4 300.4C513.6 301.5 515.9 302.7 518.1 303.9C520.4 305.0 522.6 306.2 524.9 307.4C527.1 308.6 529.4 309.8 531.6 310.9C533.9 312.1 536.2 313.3 538.4 314.4C540.6 315.5 543.9 317.1 545.0 317.7C546.1 318.3 544.0 317.2 545.1 317.8C546.3 318.3 549.6 319.9 551.9 321.0C554.1 322.0 556.4 323.0 558.7 323.9C560.9 324.9 563.2 325.8 565.4 326.6C567.7 327.5 569.9 328.2 572.2 329.0C574.4 329.7 576.7 330.3 578.9 330.9C581.2 331.5 583.4 332.1 585.7 332.6C587.9 333.1 590.2 333.6 592.4 334.0C594.7 334.4 596.9 334.8 599.2 335.2C601.4 335.5 603.7 335.8 605.9 336.2C608.2 336.5 610.4 336.8 612.7 337.0C614.9 337.3 618.2 337.7 619.4 337.9C620.6 338.0 618.9 337.8 620.0 337.9C621.1 338.0 624.0 338.4 626.2 338.6C628.3 338.9 630.7 339.2 632.9 339.5C635.2 339.8 637.4 340.0 639.7 340.4C641.9 340.7 644.2 341.0 646.4 341.4C648.7 341.8 650.9 342.2 653.2 342.6C655.4 343.0 657.7 343.5 659.9 343.9C662.2 344.4 664.4 344.8 666.7 345.3C668.9 345.8 671.2 346.3 673.4 346.8C675.7 347.2 678.0 347.7 680.2 348.2C682.5 348.7 684.7 349.2 687.0 349.7C689.2 350.1 692.4 350.8 693.7 351.0C695.0 351.3 693.9 351.1 695.0 351.3C696.1 351.5 698.4 352.0 700.5 352.3C702.5 352.7 705.0 353.1 707.2 353.5C709.5 353.9 711.7 354.2 714.0 354.6C716.2 354.9 718.5 355.3 720.7 355.6C723.0 355.9 725.2 356.2 727.5 356.4C729.7 356.7 732.0 357.0 734.2 357.2C736.5 357.4 738.7 357.7 741.0 357.9C743.2 358.1 745.5 358.3 747.7 358.5C750.0 358.6 752.2 358.8 754.5 358.9C756.7 359.1 759.0 359.2 761.2 359.3C763.5 359.5 766.5 359.6 768.0 359.6C769.4 359.7 768.9 359.7 770.0 359.7C771.1 359.7 772.8 359.8 774.7 359.8C776.7 359.9 779.2 359.9 781.5 360.0C783.7 360.0 786.0 360.0 788.2 360.0C790.5 360.0 776.4 359.9 795.0 359.9C813.6 360.0 849.2 360.2 900.0 360.3C950.8 360.4 1018.2 360.3 1100.0 360.3C1181.8 360.3 1342.5 360.3 1391.0 360.3" fill="none" stroke="#0000cd" stroke-width="6.4" clip-path="url(#clipT)"/>
<path d="M194.0 271.0C196.9 270.8 205.6 270.3 211.3 270.0C217.1 269.7 222.9 269.4 228.7 269.1C234.5 268.9 241.6 268.5 246.0 268.3C250.5 268.1 252.5 268.0 255.4 267.9C258.3 267.7 259.2 267.7 263.4 267.4C267.6 267.2 275.0 266.7 280.7 266.3C286.5 265.9 292.3 265.4 298.1 264.8C303.9 264.3 310.1 263.5 315.4 262.9C320.8 262.2 327.1 261.3 330.0 260.9C332.9 260.6 329.4 261.0 332.8 260.6C336.1 260.1 344.3 258.8 350.1 258.0C355.9 257.1 361.7 256.2 367.5 255.3C373.3 254.5 379.0 253.6 384.8 252.8C390.6 252.0 398.8 251.0 402.2 250.5C405.5 250.1 402.1 250.5 405.0 250.2C407.9 249.9 414.2 249.2 419.5 248.7C424.8 248.3 431.1 247.8 436.9 247.5C442.7 247.2 448.4 247.0 454.2 247.0C460.0 247.0 468.1 247.2 471.6 247.3C475.0 247.4 472.1 247.3 475.0 247.5C477.9 247.7 483.7 248.0 488.9 248.6C494.1 249.1 500.5 249.9 506.3 250.9C512.0 251.8 517.8 253.0 523.6 254.4C529.4 255.7 537.4 258.1 541.0 259.0C544.5 260.0 542.1 259.3 545.0 260.3C547.9 261.2 553.2 262.9 558.3 264.7C563.4 266.4 569.9 268.8 575.7 271.0C581.4 273.2 587.2 275.4 593.0 277.7C598.8 280.0 605.8 282.8 610.3 284.6C614.8 286.4 617.1 287.3 620.0 288.4C622.9 289.6 623.5 289.8 627.7 291.4C631.9 293.0 639.3 295.9 645.0 298.0C650.8 300.1 656.6 302.2 662.4 304.2C668.2 306.2 674.3 308.3 679.7 310.1C685.2 311.9 692.1 314.0 695.0 314.9C697.9 315.8 693.8 314.6 697.1 315.5C700.3 316.5 708.7 318.9 714.4 320.5C720.2 322.1 726.0 323.5 731.8 324.9C737.6 326.3 743.3 327.6 749.1 328.8C754.9 329.9 763.0 331.4 766.5 332.0C770.0 332.6 767.1 332.1 770.0 332.6C772.9 333.1 778.6 334.0 783.8 334.7C789.0 335.5 795.4 336.3 801.2 337.0C807.0 337.7 812.7 338.3 818.5 338.9C824.3 339.5 831.5 340.2 835.9 340.6C840.3 341.0 842.1 341.2 845.0 341.4C847.9 341.7 849.0 341.8 853.2 342.1C857.5 342.4 864.8 343.0 870.6 343.4C876.3 343.9 882.1 344.3 887.9 344.7C893.7 345.1 899.5 345.4 905.3 345.8C911.0 346.1 916.8 346.5 922.6 346.8C928.4 347.1 934.2 347.4 940.0 347.7C945.7 348.0 951.5 348.3 957.3 348.5C963.1 348.8 968.9 349.0 974.7 349.3C980.4 349.5 986.2 349.7 992.0 350.0C997.8 350.2 1005.9 350.5 1009.3 350.6C1012.8 350.7 1009.7 350.6 1012.6 350.7C1015.5 350.8 1021.5 351.0 1026.7 351.2C1031.9 351.3 1038.3 351.5 1044.0 351.7C1049.8 351.9 1055.6 352.1 1061.4 352.2C1067.2 352.4 1073.0 352.6 1078.7 352.7C1084.5 352.9 1090.3 353.0 1096.1 353.2C1101.9 353.4 1107.7 353.5 1113.4 353.7C1119.2 353.8 1125.0 354.0 1130.8 354.2C1136.6 354.3 1142.3 354.5 1148.1 354.6C1153.9 354.8 1159.7 354.9 1165.5 355.1C1171.3 355.2 1177.0 355.4 1182.8 355.5C1188.6 355.6 1194.4 355.8 1200.2 355.9C1206.0 356.0 1211.7 356.2 1217.5 356.3C1223.3 356.4 1230.2 356.5 1234.9 356.6C1239.5 356.7 1242.4 356.8 1245.3 356.8C1248.2 356.9 1248.2 356.9 1252.2 356.9C1256.3 357.0 1263.8 357.1 1269.6 357.2C1275.3 357.3 1281.1 357.4 1286.9 357.5C1292.7 357.5 1298.5 357.6 1304.3 357.7C1310.0 357.7 1315.8 357.8 1321.6 357.8C1327.4 357.9 1333.2 357.9 1339.0 357.9C1344.7 357.9 1350.5 358.0 1356.3 358.0C1362.1 358.0 1367.9 358.0 1373.7 358.0C1379.4 358.0 1388.1 357.9 1391.0 357.9" fill="none" stroke="#000" stroke-width="6.4" clip-path="url(#clipT)"/>
<text transform="translate(89.00 184.80) rotate(-90)"><tspan x="-56.73" y="20.37" font-size="62.20" textLength="113.74" lengthAdjust="spacingAndGlyphs" stroke="#fff" stroke-width="1.20">PDF</tspan></text>
<line x1="1122.00" y1="54.50" x2="1222.50" y2="54.50" stroke="#0000cd" stroke-width="6.4"/>
<line x1="1122.00" y1="101.80" x2="1222.50" y2="101.80" stroke="#000" stroke-width="6.4"/>
<text transform="translate(1226.80 71.40)"><tspan x="-1.36" y="0.00" font-size="48.50" textLength="135.62" lengthAdjust="spacingAndGlyphs" stroke="#fff" stroke-width="0.55">HMXB</tspan></text>
<text transform="translate(1226.80 119.20)"><tspan x="-1.38" y="-0.48" font-size="48.50" textLength="109.86" lengthAdjust="spacingAndGlyphs" stroke="#fff" stroke-width="0.55">LIGO</tspan></text>
<line x1="1705.10" y1="485.35" x2="1705.10" y2="1546.30" stroke="#000" stroke-width="1.7"/>
<line x1="1704.25" y1="486.20" x2="1998.95" y2="486.20" stroke="#000" stroke-width="1.7"/>
<line x1="1705.10" y1="479.70" x2="1705.10" y2="486.20" stroke="#000" stroke-width="1.7"/>
<text transform="translate(1703.90 472.20) rotate(90)"><tspan x="-53.84" y="15.76" font-size="48.50" textLength="55.62" lengthAdjust="spacingAndGlyphs" stroke="#fff" stroke-width="0.55">0.0</tspan></text>
<line x1="1851.60" y1="479.70" x2="1851.60" y2="486.20" stroke="#000" stroke-width="1.7"/>
<text transform="translate(1850.40 472.20) rotate(90)"><tspan x="-52.95" y="15.76" font-size="48.50" textLength="55.62" lengthAdjust="spacingAndGlyphs" stroke="#fff" stroke-width="0.55">0.1</tspan></text>
<line x1="1998.10" y1="479.70" x2="1998.10" y2="486.20" stroke="#000" stroke-width="1.7"/>
<text transform="translate(1996.90 472.20) rotate(90)"><tspan x="-53.18" y="15.76" font-size="48.50" textLength="55.62" lengthAdjust="spacingAndGlyphs" stroke="#fff" stroke-width="0.55">0.2</tspan></text>
<line x1="1698.30" y1="664.62" x2="1705.10" y2="664.62" stroke="#000" stroke-width="3.0"/>
<line x1="1698.30" y1="884.64" x2="1705.10" y2="884.64" stroke="#000" stroke-width="3.0"/>
<line x1="1698.30" y1="1104.66" x2="1705.10" y2="1104.66" stroke="#000" stroke-width="3.0"/>
<line x1="1698.30" y1="1324.68" x2="1705.10" y2="1324.68" stroke="#000" stroke-width="3.0"/>
<line x1="1698.30" y1="1544.70" x2="1705.10" y2="1544.70" stroke="#000" stroke-width="3.0"/>
<path d="M1871.0 482.6C1872.3 484.0 1876.5 488.2 1879.2 491.0C1881.9 493.7 1884.6 496.5 1887.2 499.3C1889.8 502.1 1892.4 504.9 1894.8 507.7C1897.2 510.4 1899.5 513.2 1901.7 516.0C1903.9 518.8 1906.0 521.6 1907.9 524.4C1909.8 527.1 1911.6 529.9 1913.2 532.7C1914.8 535.5 1916.2 538.3 1917.5 541.1C1918.8 543.8 1919.9 546.6 1920.9 549.4C1921.9 552.2 1922.7 555.0 1923.3 557.8C1924.0 560.6 1924.5 563.3 1924.9 566.1C1925.3 568.9 1925.5 571.7 1925.5 574.5C1925.6 577.3 1925.5 580.0 1925.3 582.8C1925.0 585.6 1924.6 588.4 1924.1 591.2C1923.6 594.0 1922.9 596.7 1922.1 599.5C1921.3 602.3 1920.3 605.1 1919.3 607.9C1918.2 610.7 1917.1 613.5 1915.8 616.2C1914.6 619.0 1913.3 621.8 1911.9 624.6C1910.5 627.4 1909.1 630.2 1907.6 632.9C1906.2 635.7 1904.6 638.5 1903.1 641.3C1901.6 644.1 1900.0 646.9 1898.5 649.6C1897.0 652.4 1895.4 655.2 1893.9 658.0C1892.4 660.8 1890.9 663.6 1889.5 666.3C1888.1 669.1 1886.7 671.9 1885.4 674.7C1884.1 677.5 1882.9 680.3 1881.7 683.1C1880.6 685.8 1879.5 688.6 1878.5 691.4C1877.5 694.2 1876.5 697.0 1875.6 699.8C1874.7 702.5 1873.8 705.3 1873.1 708.1C1872.3 710.9 1871.6 713.7 1870.9 716.5C1870.2 719.2 1869.6 722.0 1869.0 724.8C1868.4 727.6 1867.9 730.4 1867.4 733.2C1866.9 735.9 1866.5 738.7 1866.1 741.5C1865.7 744.3 1865.4 747.1 1865.0 749.9C1864.7 752.7 1864.4 755.4 1864.1 758.2C1863.9 761.0 1863.6 763.8 1863.4 766.6C1863.1 769.4 1862.9 772.1 1862.7 774.9C1862.5 777.7 1862.3 780.5 1862.1 783.3C1861.9 786.1 1861.6 788.8 1861.4 791.6C1861.2 794.4 1860.9 797.2 1860.7 800.0C1860.4 802.8 1860.1 805.6 1859.8 808.3C1859.5 811.1 1859.1 813.9 1858.7 816.7C1858.4 819.5 1857.9 822.3 1857.5 825.0C1857.0 827.8 1856.5 830.6 1855.9 833.4C1855.3 836.2 1854.7 839.0 1854.1 841.7C1853.4 844.5 1852.7 847.3 1852.0 850.1C1851.2 852.9 1850.4 855.7 1849.6 858.4C1848.7 861.2 1847.9 864.0 1846.9 866.8C1846.0 869.6 1845.0 872.4 1844.0 875.2C1843.0 877.9 1842.0 880.7 1840.8 883.5C1839.7 886.3 1838.6 889.1 1837.4 891.9C1836.2 894.6 1835.0 897.4 1833.7 900.2C1832.5 903.0 1831.1 905.8 1829.8 908.6C1828.4 911.3 1827.0 914.1 1825.6 916.9C1824.2 919.7 1822.8 922.5 1821.3 925.3C1819.8 928.0 1818.3 930.8 1816.8 933.6C1815.3 936.4 1813.7 939.2 1812.2 942.0C1810.6 944.8 1809.0 947.5 1807.5 950.3C1805.9 953.1 1804.3 955.9 1802.7 958.7C1801.1 961.5 1799.5 964.2 1797.9 967.0C1796.3 969.8 1794.8 972.6 1793.2 975.4C1791.6 978.2 1790.0 980.9 1788.5 983.7C1786.9 986.5 1785.3 989.3 1783.8 992.1C1782.3 994.9 1780.8 997.7 1779.3 1000.4C1777.8 1003.2 1776.3 1006.0 1774.9 1008.8C1773.5 1011.6 1772.0 1014.4 1770.7 1017.1C1769.3 1019.9 1768.0 1022.7 1766.7 1025.5C1765.4 1028.3 1764.1 1031.1 1762.9 1033.8C1761.7 1036.6 1760.5 1039.4 1759.4 1042.2C1758.3 1045.0 1757.3 1047.8 1756.3 1050.5C1755.3 1053.3 1755.0 1055.1 1753.4 1058.9C1751.8 1062.7 1748.9 1069.6 1746.7 1073.4C1744.5 1077.2 1743.0 1079.0 1740.3 1081.5C1737.6 1084.0 1733.7 1086.5 1730.6 1088.7C1727.5 1090.9 1723.3 1093.5 1721.8 1094.4" fill="none" stroke="#b52222" stroke-width="5.3" clip-path="url(#clipR0)"/>
<line x1="1705.10" y1="1705.35" x2="1705.10" y2="2766.30" stroke="#000" stroke-width="1.7"/>
<line x1="1704.25" y1="1706.20" x2="1998.95" y2="1706.20" stroke="#000" stroke-width="1.7"/>
<line x1="1705.10" y1="1699.70" x2="1705.10" y2="1706.20" stroke="#000" stroke-width="1.7"/>
<text transform="translate(1703.90 1692.20) rotate(90)"><tspan x="-53.84" y="15.76" font-size="48.50" textLength="55.62" lengthAdjust="spacingAndGlyphs" stroke="#fff" stroke-width="0.55">0.0</tspan></text>
<line x1="1851.60" y1="1699.70" x2="1851.60" y2="1706.20" stroke="#000" stroke-width="1.7"/>
<text transform="translate(1850.40 1692.20) rotate(90)"><tspan x="-52.95" y="15.76" font-size="48.50" textLength="55.62" lengthAdjust="spacingAndGlyphs" stroke="#fff" stroke-width="0.55">0.1</tspan></text>
<line x1="1998.10" y1="1699.70" x2="1998.10" y2="1706.20" stroke="#000" stroke-width="1.7"/>
<text transform="translate(1996.90 1692.20) rotate(90)"><tspan x="-53.18" y="15.76" font-size="48.50" textLength="55.62" lengthAdjust="spacingAndGlyphs" stroke="#fff" stroke-width="0.55">0.2</tspan></text>
<line x1="1698.30" y1="1884.62" x2="1705.10" y2="1884.62" stroke="#000" stroke-width="3.0"/>
<line x1="1698.30" y1="2104.64" x2="1705.10" y2="2104.64" stroke="#000" stroke-width="3.0"/>
<line x1="1698.30" y1="2324.66" x2="1705.10" y2="2324.66" stroke="#000" stroke-width="3.0"/>
<line x1="1698.30" y1="2544.68" x2="1705.10" y2="2544.68" stroke="#000" stroke-width="3.0"/>
<line x1="1698.30" y1="2764.70" x2="1705.10" y2="2764.70" stroke="#000" stroke-width="3.0"/>
<path d="M1871.0 1702.6C1872.3 1704.0 1876.5 1708.2 1879.2 1711.0C1881.9 1713.7 1884.6 1716.5 1887.2 1719.3C1889.8 1722.1 1892.4 1724.9 1894.8 1727.7C1897.2 1730.4 1899.5 1733.2 1901.7 1736.0C1903.9 1738.8 1906.0 1741.6 1907.9 1744.4C1909.8 1747.1 1911.6 1749.9 1913.2 1752.7C1914.8 1755.5 1916.2 1758.3 1917.5 1761.1C1918.8 1763.8 1919.9 1766.6 1920.9 1769.4C1921.9 1772.2 1922.7 1775.0 1923.3 1777.8C1924.0 1780.6 1924.5 1783.3 1924.9 1786.1C1925.3 1788.9 1925.5 1791.7 1925.5 1794.5C1925.6 1797.3 1925.5 1800.0 1925.3 1802.8C1925.0 1805.6 1924.6 1808.4 1924.1 1811.2C1923.6 1814.0 1922.9 1816.7 1922.1 1819.5C1921.3 1822.3 1920.3 1825.1 1919.3 1827.9C1918.2 1830.7 1917.1 1833.5 1915.8 1836.2C1914.6 1839.0 1913.3 1841.8 1911.9 1844.6C1910.5 1847.4 1909.1 1850.2 1907.6 1852.9C1906.2 1855.7 1904.6 1858.5 1903.1 1861.3C1901.6 1864.1 1900.0 1866.9 1898.5 1869.6C1897.0 1872.4 1895.4 1875.2 1893.9 1878.0C1892.4 1880.8 1890.9 1883.6 1889.5 1886.3C1888.1 1889.1 1886.7 1891.9 1885.4 1894.7C1884.1 1897.5 1882.9 1900.3 1881.7 1903.1C1880.6 1905.8 1879.5 1908.6 1878.5 1911.4C1877.5 1914.2 1876.5 1917.0 1875.6 1919.8C1874.7 1922.5 1873.8 1925.3 1873.1 1928.1C1872.3 1930.9 1871.6 1933.7 1870.9 1936.5C1870.2 1939.2 1869.6 1942.0 1869.0 1944.8C1868.4 1947.6 1867.9 1950.4 1867.4 1953.2C1866.9 1955.9 1866.5 1958.7 1866.1 1961.5C1865.7 1964.3 1865.4 1967.1 1865.0 1969.9C1864.7 1972.7 1864.4 1975.4 1864.1 1978.2C1863.9 1981.0 1863.6 1983.8 1863.4 1986.6C1863.1 1989.4 1862.9 1992.1 1862.7 1994.9C1862.5 1997.7 1862.3 2000.5 1862.1 2003.3C1861.9 2006.1 1861.6 2008.8 1861.4 2011.6C1861.2 2014.4 1860.9 2017.2 1860.7 2020.0C1860.4 2022.8 1860.1 2025.6 1859.8 2028.3C1859.5 2031.1 1859.1 2033.9 1858.7 2036.7C1858.4 2039.5 1857.9 2042.3 1857.5 2045.0C1857.0 2047.8 1856.5 2050.6 1855.9 2053.4C1855.3 2056.2 1854.7 2059.0 1854.1 2061.7C1853.4 2064.5 1852.7 2067.3 1852.0 2070.1C1851.2 2072.9 1850.4 2075.7 1849.6 2078.4C1848.7 2081.2 1847.9 2084.0 1846.9 2086.8C1846.0 2089.6 1845.0 2092.4 1844.0 2095.2C1843.0 2097.9 1842.0 2100.7 1840.8 2103.5C1839.7 2106.3 1838.6 2109.1 1837.4 2111.9C1836.2 2114.6 1835.0 2117.4 1833.7 2120.2C1832.5 2123.0 1831.1 2125.8 1829.8 2128.6C1828.4 2131.3 1827.0 2134.1 1825.6 2136.9C1824.2 2139.7 1822.8 2142.5 1821.3 2145.3C1819.8 2148.0 1818.3 2150.8 1816.8 2153.6C1815.3 2156.4 1813.7 2159.2 1812.2 2162.0C1810.6 2164.8 1809.0 2167.5 1807.5 2170.3C1805.9 2173.1 1804.3 2175.9 1802.7 2178.7C1801.1 2181.5 1799.5 2184.2 1797.9 2187.0C1796.3 2189.8 1794.8 2192.6 1793.2 2195.4C1791.6 2198.2 1790.0 2200.9 1788.5 2203.7C1786.9 2206.5 1785.3 2209.3 1783.8 2212.1C1782.3 2214.9 1780.8 2217.7 1779.3 2220.4C1777.8 2223.2 1776.3 2226.0 1774.9 2228.8C1773.5 2231.6 1772.0 2234.4 1770.7 2237.1C1769.3 2239.9 1768.0 2242.7 1766.7 2245.5C1765.4 2248.3 1764.1 2251.1 1762.9 2253.8C1761.7 2256.6 1760.5 2259.4 1759.4 2262.2C1758.3 2265.0 1757.3 2267.8 1756.3 2270.5C1755.3 2273.3 1755.0 2275.1 1753.4 2278.9C1751.8 2282.7 1748.9 2289.6 1746.7 2293.4C1744.5 2297.2 1743.0 2298.9 1740.3 2301.5C1737.6 2304.1 1733.7 2306.5 1730.6 2308.7C1727.5 2310.8 1723.3 2313.4 1721.8 2314.4" fill="none" stroke="#b52222" stroke-width="5.3" clip-path="url(#clipR1)"/>
<text transform="translate(1851.70 400.50)"><tspan x="-58.56" y="0.00" font-size="64.00" textLength="117.41" lengthAdjust="spacingAndGlyphs" stroke="#fff" stroke-width="1.20">PDF</tspan></text>
<line x1="1953.90" y1="2414.90" x2="1953.90" y2="2542.70" stroke="#b22222" stroke-width="6.6"/>
<text transform="translate(1933.60 2549.30) rotate(90)"><tspan x="-1.71" y="0.00" font-size="62.20" textLength="101.52" lengthAdjust="spacingAndGlyphs" stroke="#fff" stroke-width="1.20">Kim</tspan><tspan x="100.98" y="12.34" font-size="78.00" textLength="43.77" lengthAdjust="spacingAndGlyphs" stroke="#fff" stroke-width="1.70">+</tspan><tspan x="143.12" y="0.00" font-size="62.20" textLength="55.20" lengthAdjust="spacingAndGlyphs" stroke="#fff" stroke-width="1.00">21</tspan></text>
</svg>
</body></html>
